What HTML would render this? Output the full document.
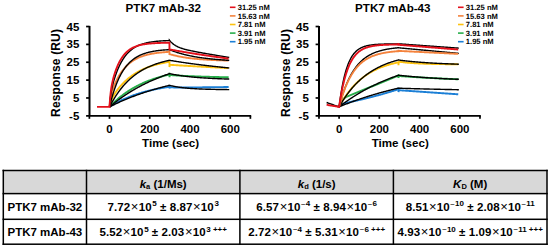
<!DOCTYPE html>
<html><head><meta charset="utf-8"><style>
html,body{margin:0;padding:0;background:#fff;width:550px;height:247px;overflow:hidden;position:relative}
svg{position:absolute;left:0;top:0}
.tk{font-family:"Liberation Sans",sans-serif;font-weight:bold;font-size:11.5px;fill:#000}
.ti{font-family:"Liberation Sans",sans-serif;font-weight:bold;font-size:11.6px;fill:#000}
.yl{font-family:"Liberation Sans",sans-serif;font-weight:bold;font-size:12px;letter-spacing:0.15px;fill:#000}
.lg{font-family:"Liberation Sans",sans-serif;font-weight:bold;font-size:7.6px;fill:#000;text-rendering:geometricPrecision}
.c{position:absolute;font-family:"Liberation Sans",sans-serif;font-weight:bold;font-size:11.5px;line-height:14px;height:14px;color:#000;text-align:center;white-space:nowrap}
.x{font-weight:normal;font-size:13px;line-height:0;margin:0 0.1px 0 0.5px}
.c.d{letter-spacing:0.1px}
sup{font-size:8px;line-height:0;vertical-align:0;position:relative;top:-4.5px;margin-left:0.6px;letter-spacing:0}
.m{font-weight:normal;font-size:8px;position:relative;top:0.3px}
sub{font-size:7.5px;line-height:0;vertical-align:0;position:relative;top:1.5px}
</style></head><body>
<svg width="550" height="247" viewBox="0 0 550 247">
<rect x="3.30" y="170.50" width="543.70" height="23.10" fill="#d8d8d8"/>
<rect x="2.55" y="169.75" width="545.20" height="1.5" fill="#000"/>
<rect x="2.55" y="192.85" width="545.20" height="1.5" fill="#000"/>
<rect x="2.55" y="218.55" width="545.20" height="1.5" fill="#000"/>
<rect x="2.55" y="243.45" width="545.20" height="1.5" fill="#000"/>
<rect x="2.55" y="169.75" width="1.5" height="75.20" fill="#000"/>
<rect x="85.75" y="169.75" width="1.5" height="75.20" fill="#000"/>
<rect x="239.15" y="169.75" width="1.5" height="75.20" fill="#000"/>
<rect x="392.65" y="169.75" width="1.5" height="75.20" fill="#000"/>
<rect x="546.25" y="169.75" width="1.5" height="75.20" fill="#000"/>
<path d="M89.50,25.93 L89.50,115.83" stroke="#000" stroke-width="2" fill="none"/>
<path d="M86.10,115.83 L251.18,115.83" stroke="#000" stroke-width="1.8" fill="none"/>
<path d="M86.10,26.53 L89.50,26.53" stroke="#000" stroke-width="1.7"/>
<path d="M86.10,44.39 L89.50,44.39" stroke="#000" stroke-width="1.7"/>
<path d="M86.10,62.25 L89.50,62.25" stroke="#000" stroke-width="1.7"/>
<path d="M86.10,80.11 L89.50,80.11" stroke="#000" stroke-width="1.7"/>
<path d="M86.10,97.97 L89.50,97.97" stroke="#000" stroke-width="1.7"/>
<path d="M89.38,115.83 L89.38,118.83" stroke="#000" stroke-width="1.7"/>
<path d="M109.50,115.83 L109.50,118.83" stroke="#000" stroke-width="1.7"/>
<path d="M129.62,115.83 L129.62,118.83" stroke="#000" stroke-width="1.7"/>
<path d="M149.75,115.83 L149.75,118.83" stroke="#000" stroke-width="1.7"/>
<path d="M169.88,115.83 L169.88,118.83" stroke="#000" stroke-width="1.7"/>
<path d="M190.00,115.83 L190.00,118.83" stroke="#000" stroke-width="1.7"/>
<path d="M210.12,115.83 L210.12,118.83" stroke="#000" stroke-width="1.7"/>
<path d="M230.25,115.83 L230.25,118.83" stroke="#000" stroke-width="1.7"/>
<path d="M250.38,115.83 L250.38,118.83" stroke="#000" stroke-width="1.7"/>
<text x="79.30" y="30.63" text-anchor="end" class="tk">45</text>
<text x="79.30" y="48.49" text-anchor="end" class="tk">35</text>
<text x="79.30" y="66.35" text-anchor="end" class="tk">25</text>
<text x="79.30" y="84.21" text-anchor="end" class="tk">15</text>
<text x="79.30" y="102.07" text-anchor="end" class="tk">5</text>
<text x="79.30" y="119.93" text-anchor="end" class="tk">-5</text>
<text x="109.50" y="132.9" text-anchor="middle" class="tk">0</text>
<text x="149.75" y="132.9" text-anchor="middle" class="tk">200</text>
<text x="190.00" y="132.9" text-anchor="middle" class="tk">400</text>
<text x="230.25" y="132.9" text-anchor="middle" class="tk">600</text>
<text x="163.30" y="11.9" text-anchor="middle" class="ti">PTK7 mAb-32</text>
<text x="170.62" y="146.9" text-anchor="middle" class="ti">Time (sec)</text>
<text transform="translate(60.30,72.9) rotate(-90)" text-anchor="middle" class="yl">Response (RU)</text>
<path d="M229.90,7.30 L235.50,7.30" stroke="#e3101b" stroke-width="1.6"/>
<text x="237.70" y="10.05" class="lg">31.25 nM</text>
<path d="M229.90,15.90 L235.50,15.90" stroke="#f4823c" stroke-width="1.6"/>
<text x="237.70" y="18.65" class="lg">15.63 nM</text>
<path d="M229.90,24.50 L235.50,24.50" stroke="#fdc20f" stroke-width="1.6"/>
<text x="237.70" y="27.25" class="lg">7.81 nM</text>
<path d="M229.90,33.10 L235.50,33.10" stroke="#27ae4a" stroke-width="1.6"/>
<text x="237.70" y="35.85" class="lg">3.91 nM</text>
<path d="M229.90,41.70 L235.50,41.70" stroke="#1b7fd6" stroke-width="1.6"/>
<text x="237.70" y="44.45" class="lg">1.95 nM</text>
<path d="M109.50,106.90 L110.10,106.51 L110.71,106.13 L111.31,105.76 L111.92,105.39 L112.52,105.03 L113.12,104.67 L113.73,104.32 L114.33,103.97 L114.93,103.63 L115.54,103.29 L116.14,102.96 L116.75,102.63 L117.35,102.31 L117.95,101.99 L118.56,101.68 L119.16,101.37 L119.76,101.07 L120.37,100.77 L120.97,100.48 L121.58,100.19 L122.18,99.90 L122.78,99.62 L123.39,99.34 L123.99,99.07 L124.59,98.80 L125.20,98.54 L125.80,98.28 L126.41,98.02 L127.01,97.77 L127.61,97.52 L128.22,97.27 L128.82,97.03 L129.42,96.79 L130.03,96.55 L130.63,96.32 L131.24,96.09 L131.84,95.87 L132.44,95.65 L133.05,95.43 L133.65,95.22 L134.25,95.00 L134.86,94.80 L135.46,94.59 L136.06,94.39 L136.67,94.19 L137.27,93.99 L137.88,93.80 L138.48,93.61 L139.08,93.42 L139.69,93.24 L140.29,93.05 L140.90,92.87 L141.50,92.70 L142.10,92.52 L142.71,92.35 L143.31,92.18 L143.91,92.02 L144.52,91.85 L145.12,91.69 L145.72,91.53 L146.33,91.38 L146.93,91.22 L147.54,91.07 L148.14,90.92 L148.74,90.77 L149.35,90.63 L149.95,90.48 L150.56,90.34 L151.16,90.20 L151.76,90.07 L152.37,89.93 L152.97,89.80 L153.57,89.67 L154.18,89.54 L154.78,89.41 L155.38,89.29 L155.99,89.16 L156.59,89.04 L157.20,88.92 L157.80,88.80 L158.40,88.69 L159.01,88.57 L159.61,88.46 L160.22,88.35 L160.82,88.24 L161.42,88.13 L162.03,88.03 L162.63,87.92 L163.23,87.82 L163.84,87.72 L164.44,87.62 L165.05,87.52 L165.65,87.42 L166.25,87.33 L166.86,87.23 L167.46,87.14 L168.06,87.05 L168.67,86.96 L169.27,86.87 L169.47,86.84 L169.47,85.05 L169.47,88.59 L169.77,86.89 L169.47,86.80 L170.08,86.97 L170.68,87.10 L171.28,87.21 L171.89,87.30 L172.49,87.37 L173.09,87.42 L173.70,87.46 L174.30,87.50 L174.91,87.52 L175.51,87.54 L176.11,87.55 L176.72,87.56 L177.32,87.57 L177.93,87.57 L178.53,87.58 L179.13,87.58 L179.74,87.58 L180.34,87.57 L180.94,87.57 L181.55,87.57 L182.15,87.56 L182.75,87.56 L183.36,87.55 L183.96,87.54 L184.57,87.54 L185.17,87.53 L185.77,87.53 L186.38,87.52 L186.98,87.51 L187.59,87.51 L188.19,87.50 L188.79,87.49 L189.40,87.48 L190.00,87.48 L190.60,87.47 L191.21,87.46 L191.81,87.46 L192.42,87.45 L193.02,87.44 L193.62,87.43 L194.23,87.43 L194.83,87.42 L195.43,87.41 L196.04,87.40 L196.64,87.40 L197.25,87.39 L197.85,87.38 L198.45,87.38 L199.06,87.37 L199.66,87.36 L200.26,87.35 L200.87,87.35 L201.47,87.34 L202.07,87.33 L202.68,87.32 L203.28,87.32 L203.89,87.31 L204.49,87.30 L205.09,87.30 L205.70,87.29 L206.30,87.28 L206.91,87.27 L207.51,87.27 L208.11,87.26 L208.72,87.25 L209.32,87.24 L209.92,87.24 L210.53,87.23 L211.13,87.22 L211.74,87.22 L212.34,87.21 L212.94,87.20 L213.55,87.19 L214.15,87.19 L214.75,87.18 L215.36,87.17 L215.96,87.16 L216.56,87.16 L217.17,87.15 L217.77,87.14 L218.38,87.14 L218.98,87.13 L219.58,87.12 L220.19,87.11 L220.79,87.11 L221.40,87.10 L222.00,87.09 L222.60,87.08 L223.21,87.08 L223.81,87.07 L224.41,87.06 L225.02,87.06 L225.62,87.05 L226.23,87.04 L226.83,87.03 L227.43,87.03 L228.04,87.02 L228.64,87.01" stroke="#1b7fd6" stroke-width="1.9" fill="none"/>
<path d="M109.50,106.90 L110.10,106.26 L110.71,105.64 L111.31,105.02 L111.92,104.42 L112.52,103.82 L113.12,103.23 L113.73,102.65 L114.33,102.08 L114.93,101.52 L115.54,100.97 L116.14,100.42 L116.75,99.89 L117.35,99.36 L117.95,98.84 L118.56,98.33 L119.16,97.83 L119.76,97.33 L120.37,96.84 L120.97,96.36 L121.58,95.89 L122.18,95.42 L122.78,94.97 L123.39,94.52 L123.99,94.07 L124.59,93.63 L125.20,93.20 L125.80,92.78 L126.41,92.36 L127.01,91.95 L127.61,91.55 L128.22,91.15 L128.82,90.76 L129.42,90.37 L130.03,89.99 L130.63,89.62 L131.24,89.25 L131.84,88.89 L132.44,88.53 L133.05,88.18 L133.65,87.83 L134.25,87.49 L134.86,87.16 L135.46,86.83 L136.06,86.50 L136.67,86.18 L137.27,85.86 L137.88,85.55 L138.48,85.25 L139.08,84.95 L139.69,84.65 L140.29,84.36 L140.90,84.07 L141.50,83.79 L142.10,83.51 L142.71,83.24 L143.31,82.97 L143.91,82.70 L144.52,82.44 L145.12,82.19 L145.72,81.93 L146.33,81.68 L146.93,81.44 L147.54,81.20 L148.14,80.96 L148.74,80.72 L149.35,80.49 L149.95,80.27 L150.56,80.04 L151.16,79.82 L151.76,79.61 L152.37,79.39 L152.97,79.18 L153.57,78.98 L154.18,78.77 L154.78,78.57 L155.38,78.37 L155.99,78.18 L156.59,77.99 L157.20,77.80 L157.80,77.61 L158.40,77.43 L159.01,77.25 L159.61,77.08 L160.22,76.90 L160.82,76.73 L161.42,76.56 L162.03,76.39 L162.63,76.23 L163.23,76.07 L163.84,75.91 L164.44,75.76 L165.05,75.60 L165.65,75.45 L166.25,75.30 L166.86,75.15 L167.46,75.01 L168.06,74.87 L168.67,74.73 L169.27,74.59 L169.47,74.54 L169.47,72.76 L169.47,77.14 L169.77,75.02 L169.47,75.00 L170.08,75.04 L170.68,75.08 L171.28,75.12 L171.89,75.17 L172.49,75.20 L173.09,75.24 L173.70,75.28 L174.30,75.32 L174.91,75.36 L175.51,75.40 L176.11,75.43 L176.72,75.47 L177.32,75.50 L177.93,75.54 L178.53,75.57 L179.13,75.61 L179.74,75.64 L180.34,75.67 L180.94,75.70 L181.55,75.74 L182.15,75.77 L182.75,75.80 L183.36,75.83 L183.96,75.86 L184.57,75.89 L185.17,75.92 L185.77,75.95 L186.38,75.98 L186.98,76.01 L187.59,76.03 L188.19,76.06 L188.79,76.09 L189.40,76.11 L190.00,76.14 L190.60,76.17 L191.21,76.19 L191.81,76.22 L192.42,76.24 L193.02,76.27 L193.62,76.29 L194.23,76.32 L194.83,76.34 L195.43,76.36 L196.04,76.38 L196.64,76.41 L197.25,76.43 L197.85,76.45 L198.45,76.47 L199.06,76.50 L199.66,76.52 L200.26,76.54 L200.87,76.56 L201.47,76.58 L202.07,76.60 L202.68,76.62 L203.28,76.64 L203.89,76.66 L204.49,76.68 L205.09,76.70 L205.70,76.71 L206.30,76.73 L206.91,76.75 L207.51,76.77 L208.11,76.79 L208.72,76.80 L209.32,76.82 L209.92,76.84 L210.53,76.86 L211.13,76.87 L211.74,76.89 L212.34,76.90 L212.94,76.92 L213.55,76.94 L214.15,76.95 L214.75,76.97 L215.36,76.98 L215.96,77.00 L216.56,77.01 L217.17,77.03 L217.77,77.04 L218.38,77.06 L218.98,77.07 L219.58,77.09 L220.19,77.10 L220.79,77.11 L221.40,77.13 L222.00,77.14 L222.60,77.15 L223.21,77.17 L223.81,77.18 L224.41,77.19 L225.02,77.21 L225.62,77.22 L226.23,77.23 L226.83,77.24 L227.43,77.26 L228.04,77.27 L228.64,77.28" stroke="#27ae4a" stroke-width="1.9" fill="none"/>
<path d="M109.50,106.90 L110.10,104.47 L110.71,102.43 L111.31,100.68 L111.92,99.15 L112.52,97.79 L113.12,96.56 L113.73,95.43 L114.33,94.38 L114.93,93.40 L115.54,92.47 L116.14,91.59 L116.75,90.74 L117.35,89.92 L117.95,89.14 L118.56,88.37 L119.16,87.63 L119.76,86.92 L120.37,86.22 L120.97,85.54 L121.58,84.87 L122.18,84.23 L122.78,83.60 L123.39,82.99 L123.99,82.39 L124.59,81.80 L125.20,81.23 L125.80,80.68 L126.41,80.13 L127.01,79.60 L127.61,79.08 L128.22,78.58 L128.82,78.09 L129.42,77.60 L130.03,77.13 L130.63,76.68 L131.24,76.23 L131.84,75.79 L132.44,75.36 L133.05,74.95 L133.65,74.54 L134.25,74.14 L134.86,73.75 L135.46,73.38 L136.06,73.01 L136.67,72.64 L137.27,72.29 L137.88,71.95 L138.48,71.61 L139.08,71.28 L139.69,70.96 L140.29,70.65 L140.90,70.35 L141.50,70.05 L142.10,69.76 L142.71,69.47 L143.31,69.20 L143.91,68.93 L144.52,68.66 L145.12,68.40 L145.72,68.15 L146.33,67.91 L146.93,67.67 L147.54,67.43 L148.14,67.20 L148.74,66.98 L149.35,66.76 L149.95,66.55 L150.56,66.34 L151.16,66.14 L151.76,65.94 L152.37,65.75 L152.97,65.56 L153.57,65.37 L154.18,65.19 L154.78,65.02 L155.38,64.85 L155.99,64.68 L156.59,64.52 L157.20,64.36 L157.80,64.20 L158.40,64.05 L159.01,63.90 L159.61,63.75 L160.22,63.61 L160.82,63.47 L161.42,63.34 L162.03,63.21 L162.63,63.08 L163.23,62.95 L163.84,62.83 L164.44,62.71 L165.05,62.59 L165.65,62.48 L166.25,62.37 L166.86,62.26 L167.46,62.15 L168.06,62.05 L168.67,61.95 L169.27,61.85 L169.47,61.82 L169.47,60.21 L169.47,67.12 L169.77,64.82 L169.47,64.80 L170.08,64.84 L170.68,64.87 L171.28,64.91 L171.89,64.95 L172.49,64.99 L173.09,65.02 L173.70,65.06 L174.30,65.10 L174.91,65.13 L175.51,65.17 L176.11,65.21 L176.72,65.24 L177.32,65.28 L177.93,65.32 L178.53,65.35 L179.13,65.39 L179.74,65.43 L180.34,65.46 L180.94,65.50 L181.55,65.53 L182.15,65.57 L182.75,65.61 L183.36,65.64 L183.96,65.68 L184.57,65.71 L185.17,65.75 L185.77,65.78 L186.38,65.82 L186.98,65.85 L187.59,65.89 L188.19,65.93 L188.79,65.96 L189.40,66.00 L190.00,66.03 L190.60,66.07 L191.21,66.10 L191.81,66.14 L192.42,66.17 L193.02,66.20 L193.62,66.24 L194.23,66.27 L194.83,66.31 L195.43,66.34 L196.04,66.38 L196.64,66.41 L197.25,66.45 L197.85,66.48 L198.45,66.51 L199.06,66.55 L199.66,66.58 L200.26,66.62 L200.87,66.65 L201.47,66.68 L202.07,66.72 L202.68,66.75 L203.28,66.78 L203.89,66.82 L204.49,66.85 L205.09,66.89 L205.70,66.92 L206.30,66.95 L206.91,66.99 L207.51,67.02 L208.11,67.05 L208.72,67.09 L209.32,67.12 L209.92,67.15 L210.53,67.18 L211.13,67.22 L211.74,67.25 L212.34,67.28 L212.94,67.32 L213.55,67.35 L214.15,67.38 L214.75,67.41 L215.36,67.45 L215.96,67.48 L216.56,67.51 L217.17,67.54 L217.77,67.58 L218.38,67.61 L218.98,67.64 L219.58,67.67 L220.19,67.70 L220.79,67.74 L221.40,67.77 L222.00,67.80 L222.60,67.83 L223.21,67.86 L223.81,67.90 L224.41,67.93 L225.02,67.96 L225.62,67.99 L226.23,68.02 L226.83,68.05 L227.43,68.08 L228.04,68.12 L228.64,68.15" stroke="#fdc20f" stroke-width="1.9" fill="none"/>
<path d="M109.50,106.90 L110.10,101.80 L110.71,97.95 L111.31,94.91 L111.92,92.42 L112.52,90.30 L113.12,88.44 L113.73,86.76 L114.33,85.21 L114.93,83.78 L115.54,82.43 L116.14,81.15 L116.75,79.93 L117.35,78.77 L117.95,77.66 L118.56,76.59 L119.16,75.58 L119.76,74.60 L120.37,73.66 L120.97,72.76 L121.58,71.90 L122.18,71.07 L122.78,70.27 L123.39,69.50 L123.99,68.77 L124.59,68.06 L125.20,67.39 L125.80,66.74 L126.41,66.11 L127.01,65.51 L127.61,64.94 L128.22,64.38 L128.82,63.85 L129.42,63.34 L130.03,62.85 L130.63,62.38 L131.24,61.93 L131.84,61.49 L132.44,61.08 L133.05,60.68 L133.65,60.29 L134.25,59.92 L134.86,59.57 L135.46,59.23 L136.06,58.90 L136.67,58.59 L137.27,58.29 L137.88,58.00 L138.48,57.72 L139.08,57.45 L139.69,57.20 L140.29,56.95 L140.90,56.72 L141.50,56.49 L142.10,56.27 L142.71,56.06 L143.31,55.86 L143.91,55.67 L144.52,55.48 L145.12,55.30 L145.72,55.13 L146.33,54.97 L146.93,54.81 L147.54,54.66 L148.14,54.51 L148.74,54.38 L149.35,54.24 L149.95,54.11 L150.56,53.99 L151.16,53.87 L151.76,53.76 L152.37,53.65 L152.97,53.54 L153.57,53.44 L154.18,53.34 L154.78,53.25 L155.38,53.16 L155.99,53.08 L156.59,52.99 L157.20,52.91 L157.80,52.84 L158.40,52.76 L159.01,52.69 L159.61,52.63 L160.22,52.56 L160.82,52.50 L161.42,52.44 L162.03,52.38 L162.63,52.33 L163.23,52.28 L163.84,52.23 L164.44,52.18 L165.05,52.13 L165.65,52.08 L166.25,52.04 L166.86,52.00 L167.46,51.96 L168.06,51.92 L168.67,51.89 L169.27,51.85 L169.47,51.84 L169.47,50.23 L169.47,55.07 L169.77,54.09 L169.47,54.00 L170.08,54.19 L170.68,54.37 L171.28,54.55 L171.89,54.72 L172.49,54.89 L173.09,55.05 L173.70,55.21 L174.30,55.36 L174.91,55.51 L175.51,55.66 L176.11,55.80 L176.72,55.94 L177.32,56.07 L177.93,56.20 L178.53,56.33 L179.13,56.46 L179.74,56.58 L180.34,56.69 L180.94,56.81 L181.55,56.92 L182.15,57.03 L182.75,57.13 L183.36,57.24 L183.96,57.34 L184.57,57.43 L185.17,57.53 L185.77,57.62 L186.38,57.71 L186.98,57.80 L187.59,57.88 L188.19,57.96 L188.79,58.04 L189.40,58.12 L190.00,58.20 L190.60,58.27 L191.21,58.35 L191.81,58.42 L192.42,58.49 L193.02,58.55 L193.62,58.62 L194.23,58.68 L194.83,58.74 L195.43,58.80 L196.04,58.86 L196.64,58.92 L197.25,58.97 L197.85,59.03 L198.45,59.08 L199.06,59.13 L199.66,59.18 L200.26,59.23 L200.87,59.28 L201.47,59.33 L202.07,59.37 L202.68,59.42 L203.28,59.46 L203.89,59.50 L204.49,59.54 L205.09,59.58 L205.70,59.62 L206.30,59.66 L206.91,59.69 L207.51,59.73 L208.11,59.77 L208.72,59.80 L209.32,59.83 L209.92,59.87 L210.53,59.90 L211.13,59.93 L211.74,59.96 L212.34,59.99 L212.94,60.02 L213.55,60.05 L214.15,60.07 L214.75,60.10 L215.36,60.13 L215.96,60.15 L216.56,60.18 L217.17,60.20 L217.77,60.23 L218.38,60.25 L218.98,60.27 L219.58,60.29 L220.19,60.32 L220.79,60.34 L221.40,60.36 L222.00,60.38 L222.60,60.40 L223.21,60.42 L223.81,60.44 L224.41,60.45 L225.02,60.47 L225.62,60.49 L226.23,60.51 L226.83,60.53 L227.43,60.54 L228.04,60.56 L228.64,60.57" stroke="#f4823c" stroke-width="1.9" fill="none"/>
<path d="M109.50,106.90 L110.10,106.59 L110.71,106.29 L111.31,105.99 L111.92,105.69 L112.52,105.39 L113.12,105.09 L113.73,104.80 L114.33,104.51 L114.93,104.22 L115.54,103.93 L116.14,103.65 L116.75,103.36 L117.35,103.08 L117.95,102.81 L118.56,102.53 L119.16,102.25 L119.76,101.98 L120.37,101.71 L120.97,101.44 L121.58,101.18 L122.18,100.91 L122.78,100.65 L123.39,100.39 L123.99,100.13 L124.59,99.88 L125.20,99.62 L125.80,99.37 L126.41,99.12 L127.01,98.87 L127.61,98.62 L128.22,98.38 L128.82,98.14 L129.42,97.89 L130.03,97.65 L130.63,97.42 L131.24,97.18 L131.84,96.95 L132.44,96.71 L133.05,96.48 L133.65,96.25 L134.25,96.03 L134.86,95.80 L135.46,95.58 L136.06,95.35 L136.67,95.13 L137.27,94.91 L137.88,94.70 L138.48,94.48 L139.08,94.27 L139.69,94.05 L140.29,93.84 L140.90,93.63 L141.50,93.43 L142.10,93.22 L142.71,93.02 L143.31,92.81 L143.91,92.61 L144.52,92.41 L145.12,92.21 L145.72,92.01 L146.33,91.82 L146.93,91.62 L147.54,91.43 L148.14,91.24 L148.74,91.05 L149.35,90.86 L149.95,90.67 L150.56,90.49 L151.16,90.30 L151.76,90.12 L152.37,89.94 L152.97,89.76 L153.57,89.58 L154.18,89.40 L154.78,89.23 L155.38,89.05 L155.99,88.88 L156.59,88.71 L157.20,88.54 L157.80,88.37 L158.40,88.20 L159.01,88.03 L159.61,87.86 L160.22,87.70 L160.82,87.54 L161.42,87.37 L162.03,87.21 L162.63,87.05 L163.23,86.89 L163.84,86.74 L164.44,86.58 L165.05,86.43 L165.65,86.27 L166.25,86.12 L166.86,85.97 L167.46,85.82 L168.06,85.67 L168.67,85.52 L169.27,85.37 L169.47,85.32 L169.47,85.30 L170.08,85.45 L170.68,85.60 L171.28,85.75 L171.89,85.88 L172.49,86.02 L173.09,86.15 L173.70,86.27 L174.30,86.39 L174.91,86.51 L175.51,86.62 L176.11,86.73 L176.72,86.83 L177.32,86.93 L177.93,87.03 L178.53,87.12 L179.13,87.21 L179.74,87.30 L180.34,87.38 L180.94,87.46 L181.55,87.54 L182.15,87.62 L182.75,87.69 L183.36,87.76 L183.96,87.83 L184.57,87.89 L185.17,87.95 L185.77,88.02 L186.38,88.07 L186.98,88.13 L187.59,88.19 L188.19,88.24 L188.79,88.29 L189.40,88.34 L190.00,88.39 L190.60,88.43 L191.21,88.48 L191.81,88.52 L192.42,88.56 L193.02,88.60 L193.62,88.64 L194.23,88.67 L194.83,88.71 L195.43,88.75 L196.04,88.78 L196.64,88.81 L197.25,88.84 L197.85,88.87 L198.45,88.90 L199.06,88.93 L199.66,88.96 L200.26,88.98 L200.87,89.01 L201.47,89.03 L202.07,89.06 L202.68,89.08 L203.28,89.10 L203.89,89.12 L204.49,89.14 L205.09,89.16 L205.70,89.18 L206.30,89.20 L206.91,89.22 L207.51,89.23 L208.11,89.25 L208.72,89.27 L209.32,89.28 L209.92,89.30 L210.53,89.31 L211.13,89.33 L211.74,89.34 L212.34,89.35 L212.94,89.37 L213.55,89.38 L214.15,89.39 L214.75,89.40 L215.36,89.41 L215.96,89.43 L216.56,89.44 L217.17,89.45 L217.77,89.46 L218.38,89.47 L218.98,89.48 L219.58,89.48 L220.19,89.49 L220.79,89.50 L221.40,89.51 L222.00,89.52 L222.60,89.53 L223.21,89.53 L223.81,89.54 L224.41,89.55 L225.02,89.55 L225.62,89.56 L226.23,89.57 L226.83,89.57 L227.43,89.58 L228.04,89.59 L228.64,89.59 L229.24,89.60" stroke="#000" stroke-width="1.4" fill="none"/>
<path d="M109.50,106.90 L110.10,106.40 L110.71,105.90 L111.31,105.40 L111.92,104.91 L112.52,104.42 L113.12,103.94 L113.73,103.47 L114.33,102.99 L114.93,102.52 L115.54,102.06 L116.14,101.60 L116.75,101.14 L117.35,100.69 L117.95,100.24 L118.56,99.80 L119.16,99.35 L119.76,98.92 L120.37,98.49 L120.97,98.06 L121.58,97.63 L122.18,97.21 L122.78,96.79 L123.39,96.38 L123.99,95.97 L124.59,95.56 L125.20,95.16 L125.80,94.76 L126.41,94.37 L127.01,93.98 L127.61,93.59 L128.22,93.20 L128.82,92.82 L129.42,92.44 L130.03,92.07 L130.63,91.70 L131.24,91.33 L131.84,90.97 L132.44,90.60 L133.05,90.25 L133.65,89.89 L134.25,89.54 L134.86,89.19 L135.46,88.85 L136.06,88.50 L136.67,88.16 L137.27,87.83 L137.88,87.50 L138.48,87.16 L139.08,86.84 L139.69,86.51 L140.29,86.19 L140.90,85.87 L141.50,85.56 L142.10,85.24 L142.71,84.93 L143.31,84.63 L143.91,84.32 L144.52,84.02 L145.12,83.72 L145.72,83.43 L146.33,83.13 L146.93,82.84 L147.54,82.55 L148.14,82.27 L148.74,81.98 L149.35,81.70 L149.95,81.42 L150.56,81.15 L151.16,80.87 L151.76,80.60 L152.37,80.34 L152.97,80.07 L153.57,79.81 L154.18,79.54 L154.78,79.29 L155.38,79.03 L155.99,78.77 L156.59,78.52 L157.20,78.27 L157.80,78.03 L158.40,77.78 L159.01,77.54 L159.61,77.30 L160.22,77.06 L160.82,76.82 L161.42,76.59 L162.03,76.35 L162.63,76.12 L163.23,75.89 L163.84,75.67 L164.44,75.44 L165.05,75.22 L165.65,75.00 L166.25,74.78 L166.86,74.57 L167.46,74.35 L168.06,74.14 L168.67,73.93 L169.27,73.72 L169.47,73.65 L169.47,73.60 L170.08,73.73 L170.68,73.86 L171.28,73.99 L171.89,74.11 L172.49,74.23 L173.09,74.35 L173.70,74.47 L174.30,74.58 L174.91,74.69 L175.51,74.80 L176.11,74.90 L176.72,75.01 L177.32,75.11 L177.93,75.21 L178.53,75.30 L179.13,75.40 L179.74,75.49 L180.34,75.58 L180.94,75.67 L181.55,75.76 L182.15,75.84 L182.75,75.93 L183.36,76.01 L183.96,76.09 L184.57,76.16 L185.17,76.24 L185.77,76.32 L186.38,76.39 L186.98,76.46 L187.59,76.53 L188.19,76.60 L188.79,76.66 L189.40,76.73 L190.00,76.79 L190.60,76.86 L191.21,76.92 L191.81,76.98 L192.42,77.04 L193.02,77.10 L193.62,77.15 L194.23,77.21 L194.83,77.26 L195.43,77.31 L196.04,77.37 L196.64,77.42 L197.25,77.47 L197.85,77.52 L198.45,77.56 L199.06,77.61 L199.66,77.66 L200.26,77.70 L200.87,77.74 L201.47,77.79 L202.07,77.83 L202.68,77.87 L203.28,77.91 L203.89,77.95 L204.49,77.99 L205.09,78.03 L205.70,78.07 L206.30,78.10 L206.91,78.14 L207.51,78.17 L208.11,78.21 L208.72,78.24 L209.32,78.28 L209.92,78.31 L210.53,78.34 L211.13,78.37 L211.74,78.40 L212.34,78.43 L212.94,78.46 L213.55,78.49 L214.15,78.52 L214.75,78.55 L215.36,78.58 L215.96,78.60 L216.56,78.63 L217.17,78.65 L217.77,78.68 L218.38,78.71 L218.98,78.73 L219.58,78.75 L220.19,78.78 L220.79,78.80 L221.40,78.82 L222.00,78.85 L222.60,78.87 L223.21,78.89 L223.81,78.91 L224.41,78.93 L225.02,78.95 L225.62,78.97 L226.23,78.99 L226.83,79.01 L227.43,79.03 L228.04,79.05 L228.64,79.07 L229.24,79.09" stroke="#000" stroke-width="1.4" fill="none"/>
<path d="M109.50,106.90 L110.10,105.74 L110.71,104.61 L111.31,103.50 L111.92,102.41 L112.52,101.35 L113.12,100.31 L113.73,99.30 L114.33,98.31 L114.93,97.34 L115.54,96.39 L116.14,95.47 L116.75,94.56 L117.35,93.67 L117.95,92.81 L118.56,91.96 L119.16,91.13 L119.76,90.32 L120.37,89.53 L120.97,88.76 L121.58,88.00 L122.18,87.26 L122.78,86.54 L123.39,85.83 L123.99,85.14 L124.59,84.46 L125.20,83.80 L125.80,83.16 L126.41,82.52 L127.01,81.91 L127.61,81.30 L128.22,80.71 L128.82,80.13 L129.42,79.57 L130.03,79.02 L130.63,78.48 L131.24,77.95 L131.84,77.43 L132.44,76.93 L133.05,76.43 L133.65,75.95 L134.25,75.48 L134.86,75.02 L135.46,74.57 L136.06,74.13 L136.67,73.70 L137.27,73.27 L137.88,72.86 L138.48,72.46 L139.08,72.07 L139.69,71.68 L140.29,71.30 L140.90,70.93 L141.50,70.57 L142.10,70.22 L142.71,69.88 L143.31,69.54 L143.91,69.21 L144.52,68.89 L145.12,68.58 L145.72,68.27 L146.33,67.97 L146.93,67.67 L147.54,67.39 L148.14,67.10 L148.74,66.83 L149.35,66.56 L149.95,66.30 L150.56,66.04 L151.16,65.79 L151.76,65.54 L152.37,65.30 L152.97,65.07 L153.57,64.84 L154.18,64.62 L154.78,64.40 L155.38,64.18 L155.99,63.97 L156.59,63.77 L157.20,63.57 L157.80,63.37 L158.40,63.18 L159.01,62.99 L159.61,62.81 L160.22,62.63 L160.82,62.45 L161.42,62.28 L162.03,62.11 L162.63,61.95 L163.23,61.79 L163.84,61.63 L164.44,61.48 L165.05,61.33 L165.65,61.18 L166.25,61.04 L166.86,60.90 L167.46,60.76 L168.06,60.63 L168.67,60.50 L169.27,60.37 L169.47,60.33 L169.47,60.30 L170.08,60.40 L170.68,60.50 L171.28,60.61 L171.89,60.71 L172.49,60.81 L173.09,60.91 L173.70,61.00 L174.30,61.10 L174.91,61.20 L175.51,61.30 L176.11,61.39 L176.72,61.49 L177.32,61.58 L177.93,61.68 L178.53,61.77 L179.13,61.86 L179.74,61.96 L180.34,62.05 L180.94,62.14 L181.55,62.23 L182.15,62.32 L182.75,62.41 L183.36,62.50 L183.96,62.59 L184.57,62.68 L185.17,62.76 L185.77,62.85 L186.38,62.94 L186.98,63.02 L187.59,63.11 L188.19,63.19 L188.79,63.28 L189.40,63.36 L190.00,63.44 L190.60,63.53 L191.21,63.61 L191.81,63.69 L192.42,63.77 L193.02,63.85 L193.62,63.93 L194.23,64.01 L194.83,64.09 L195.43,64.17 L196.04,64.25 L196.64,64.33 L197.25,64.40 L197.85,64.48 L198.45,64.56 L199.06,64.63 L199.66,64.71 L200.26,64.78 L200.87,64.86 L201.47,64.93 L202.07,65.01 L202.68,65.08 L203.28,65.15 L203.89,65.23 L204.49,65.30 L205.09,65.37 L205.70,65.44 L206.30,65.51 L206.91,65.58 L207.51,65.65 L208.11,65.72 L208.72,65.79 L209.32,65.86 L209.92,65.93 L210.53,66.00 L211.13,66.07 L211.74,66.14 L212.34,66.20 L212.94,66.27 L213.55,66.34 L214.15,66.40 L214.75,66.47 L215.36,66.54 L215.96,66.60 L216.56,66.67 L217.17,66.73 L217.77,66.80 L218.38,66.86 L218.98,66.92 L219.58,66.99 L220.19,67.05 L220.79,67.11 L221.40,67.18 L222.00,67.24 L222.60,67.30 L223.21,67.36 L223.81,67.42 L224.41,67.48 L225.02,67.54 L225.62,67.60 L226.23,67.66 L226.83,67.72 L227.43,67.78 L228.04,67.84 L228.64,67.90 L229.24,67.96" stroke="#000" stroke-width="1.4" fill="none"/>
<path d="M109.50,106.90 L110.10,104.43 L110.71,102.06 L111.31,99.80 L111.92,97.63 L112.52,95.55 L113.12,93.57 L113.73,91.66 L114.33,89.84 L114.93,88.10 L115.54,86.43 L116.14,84.83 L116.75,83.29 L117.35,81.83 L117.95,80.43 L118.56,79.08 L119.16,77.79 L119.76,76.56 L120.37,75.38 L120.97,74.25 L121.58,73.17 L122.18,72.14 L122.78,71.15 L123.39,70.20 L123.99,69.29 L124.59,68.42 L125.20,67.59 L125.80,66.79 L126.41,66.03 L127.01,65.30 L127.61,64.60 L128.22,63.93 L128.82,63.28 L129.42,62.67 L130.03,62.08 L130.63,61.52 L131.24,60.98 L131.84,60.46 L132.44,59.97 L133.05,59.50 L133.65,59.04 L134.25,58.61 L134.86,58.19 L135.46,57.80 L136.06,57.42 L136.67,57.05 L137.27,56.70 L137.88,56.37 L138.48,56.05 L139.08,55.74 L139.69,55.45 L140.29,55.17 L140.90,54.90 L141.50,54.64 L142.10,54.40 L142.71,54.16 L143.31,53.93 L143.91,53.72 L144.52,53.51 L145.12,53.31 L145.72,53.12 L146.33,52.94 L146.93,52.77 L147.54,52.60 L148.14,52.44 L148.74,52.29 L149.35,52.14 L149.95,52.00 L150.56,51.87 L151.16,51.74 L151.76,51.62 L152.37,51.50 L152.97,51.39 L153.57,51.28 L154.18,51.18 L154.78,51.08 L155.38,50.98 L155.99,50.89 L156.59,50.81 L157.20,50.72 L157.80,50.64 L158.40,50.57 L159.01,50.49 L159.61,50.42 L160.22,50.36 L160.82,50.29 L161.42,50.23 L162.03,50.17 L162.63,50.12 L163.23,50.06 L163.84,50.01 L164.44,49.96 L165.05,49.92 L165.65,49.87 L166.25,49.83 L166.86,49.79 L167.46,49.75 L168.06,49.71 L168.67,49.67 L169.27,49.64 L169.47,49.63 L169.47,49.60 L170.08,49.85 L170.68,50.10 L171.28,50.35 L171.89,50.59 L172.49,50.82 L173.09,51.05 L173.70,51.27 L174.30,51.49 L174.91,51.71 L175.51,51.91 L176.11,52.12 L176.72,52.32 L177.32,52.52 L177.93,52.71 L178.53,52.90 L179.13,53.08 L179.74,53.26 L180.34,53.44 L180.94,53.61 L181.55,53.78 L182.15,53.95 L182.75,54.11 L183.36,54.27 L183.96,54.42 L184.57,54.57 L185.17,54.72 L185.77,54.87 L186.38,55.01 L186.98,55.15 L187.59,55.29 L188.19,55.42 L188.79,55.55 L189.40,55.68 L190.00,55.81 L190.60,55.93 L191.21,56.05 L191.81,56.17 L192.42,56.29 L193.02,56.40 L193.62,56.51 L194.23,56.62 L194.83,56.73 L195.43,56.83 L196.04,56.93 L196.64,57.03 L197.25,57.13 L197.85,57.23 L198.45,57.32 L199.06,57.42 L199.66,57.51 L200.26,57.60 L200.87,57.68 L201.47,57.77 L202.07,57.85 L202.68,57.93 L203.28,58.01 L203.89,58.09 L204.49,58.17 L205.09,58.25 L205.70,58.32 L206.30,58.39 L206.91,58.47 L207.51,58.54 L208.11,58.61 L208.72,58.67 L209.32,58.74 L209.92,58.81 L210.53,58.87 L211.13,58.93 L211.74,58.99 L212.34,59.05 L212.94,59.11 L213.55,59.17 L214.15,59.23 L214.75,59.29 L215.36,59.34 L215.96,59.39 L216.56,59.45 L217.17,59.50 L217.77,59.55 L218.38,59.60 L218.98,59.65 L219.58,59.70 L220.19,59.75 L220.79,59.79 L221.40,59.84 L222.00,59.89 L222.60,59.93 L223.21,59.97 L223.81,60.02 L224.41,60.06 L225.02,60.10 L225.62,60.14 L226.23,60.18 L226.83,60.22 L227.43,60.26 L228.04,60.30 L228.64,60.34 L229.24,60.38" stroke="#000" stroke-width="1.4" fill="none"/>
<path d="M109.50,106.90 L110.10,100.08 L110.71,95.21 L111.31,91.46 L111.92,88.39 L112.52,85.73 L113.12,83.34 L113.73,81.16 L114.33,79.12 L114.93,77.21 L115.54,75.40 L116.14,73.69 L116.75,72.06 L117.35,70.51 L117.95,69.04 L118.56,67.64 L119.16,66.31 L119.76,65.05 L120.37,63.84 L120.97,62.70 L121.58,61.61 L122.18,60.57 L122.78,59.58 L123.39,58.64 L123.99,57.74 L124.59,56.89 L125.20,56.08 L125.80,55.31 L126.41,54.57 L127.01,53.88 L127.61,53.21 L128.22,52.58 L128.82,51.98 L129.42,51.40 L130.03,50.86 L130.63,50.34 L131.24,49.84 L131.84,49.37 L132.44,48.92 L133.05,48.50 L133.65,48.09 L134.25,47.71 L134.86,47.34 L135.46,46.99 L136.06,46.66 L136.67,46.34 L137.27,46.04 L137.88,45.75 L138.48,45.48 L139.08,45.22 L139.69,44.97 L140.29,44.74 L140.90,44.51 L141.50,44.30 L142.10,44.10 L142.71,43.91 L143.31,43.72 L143.91,43.55 L144.52,43.38 L145.12,43.22 L145.72,43.07 L146.33,42.93 L146.93,42.79 L147.54,42.66 L148.14,42.54 L148.74,42.42 L149.35,42.31 L149.95,42.20 L150.56,42.10 L151.16,42.01 L151.76,41.91 L152.37,41.83 L152.97,41.74 L153.57,41.66 L154.18,41.59 L154.78,41.52 L155.38,41.45 L155.99,41.38 L156.59,41.32 L157.20,41.26 L157.80,41.21 L158.40,41.15 L159.01,41.10 L159.61,41.05 L160.22,41.01 L160.82,40.96 L161.42,40.92 L162.03,40.88 L162.63,40.85 L163.23,40.81 L163.84,40.78 L164.44,40.74 L165.05,40.71 L165.65,40.68 L166.25,40.66 L166.86,40.63 L167.46,40.60 L168.06,40.58 L168.67,40.56 L169.27,40.53 L169.47,40.53 L169.47,40.28 L170.08,41.00 L170.68,41.66 L171.28,42.28 L171.89,42.85 L172.49,43.38 L173.09,43.87 L173.70,44.33 L174.30,44.76 L174.91,45.16 L175.51,45.54 L176.11,45.89 L176.72,46.22 L177.32,46.53 L177.93,46.83 L178.53,47.10 L179.13,47.36 L179.74,47.61 L180.34,47.84 L180.94,48.07 L181.55,48.28 L182.15,48.48 L182.75,48.68 L183.36,48.87 L183.96,49.05 L184.57,49.22 L185.17,49.38 L185.77,49.55 L186.38,49.70 L186.98,49.85 L187.59,50.00 L188.19,50.14 L188.79,50.28 L189.40,50.42 L190.00,50.55 L190.60,50.68 L191.21,50.81 L191.81,50.94 L192.42,51.06 L193.02,51.18 L193.62,51.30 L194.23,51.42 L194.83,51.54 L195.43,51.65 L196.04,51.77 L196.64,51.88 L197.25,52.00 L197.85,52.11 L198.45,52.22 L199.06,52.33 L199.66,52.44 L200.26,52.55 L200.87,52.65 L201.47,52.76 L202.07,52.87 L202.68,52.97 L203.28,53.08 L203.89,53.19 L204.49,53.29 L205.09,53.40 L205.70,53.50 L206.30,53.61 L206.91,53.71 L207.51,53.82 L208.11,53.92 L208.72,54.02 L209.32,54.13 L209.92,54.23 L210.53,54.33 L211.13,54.44 L211.74,54.54 L212.34,54.64 L212.94,54.74 L213.55,54.85 L214.15,54.95 L214.75,55.05 L215.36,55.16 L215.96,55.26 L216.56,55.36 L217.17,55.46 L217.77,55.57 L218.38,55.67 L218.98,55.77 L219.58,55.87 L220.19,55.97 L220.79,56.08 L221.40,56.18 L222.00,56.28 L222.60,56.38 L223.21,56.48 L223.81,56.59 L224.41,56.69 L225.02,56.79 L225.62,56.89 L226.23,56.99 L226.83,57.10 L227.43,57.20 L228.04,57.30 L228.64,57.40 L229.24,57.50" stroke="#000" stroke-width="1.4" fill="none"/>
<path d="M97.02,106.90 L97.83,106.90 L98.63,106.90 L99.44,106.90 L100.24,106.90 L101.05,106.90 L101.85,106.90 L102.66,106.90 L103.46,106.90 L104.27,106.90 L105.07,106.90 L105.88,106.90 L106.68,106.90 L107.49,106.90 L108.29,106.90 L109.10,106.90 L109.50,106.90 L110.10,98.24 L110.71,92.31 L111.31,87.93 L111.92,84.48 L112.52,81.60 L113.12,79.08 L113.73,76.82 L114.33,74.76 L114.93,72.84 L115.54,71.06 L116.14,69.39 L116.75,67.82 L117.35,66.35 L117.95,64.97 L118.56,63.66 L119.16,62.44 L119.76,61.28 L120.37,60.19 L120.97,59.17 L121.58,58.20 L122.18,57.30 L122.78,56.44 L123.39,55.63 L123.99,54.88 L124.59,54.16 L125.20,53.49 L125.80,52.85 L126.41,52.26 L127.01,51.69 L127.61,51.17 L128.22,50.67 L128.82,50.20 L129.42,49.76 L130.03,49.34 L130.63,48.95 L131.24,48.58 L131.84,48.23 L132.44,47.90 L133.05,47.59 L133.65,47.30 L134.25,47.03 L134.86,46.77 L135.46,46.53 L136.06,46.30 L136.67,46.08 L137.27,45.88 L137.88,45.69 L138.48,45.51 L139.08,45.34 L139.69,45.18 L140.29,45.03 L140.90,44.89 L141.50,44.76 L142.10,44.63 L142.71,44.51 L143.31,44.40 L143.91,44.30 L144.52,44.20 L145.12,44.11 L145.72,44.02 L146.33,43.94 L146.93,43.86 L147.54,43.79 L148.14,43.72 L148.74,43.65 L149.35,43.59 L149.95,43.53 L150.56,43.48 L151.16,43.43 L151.76,43.38 L152.37,43.34 L152.97,43.29 L153.57,43.25 L154.18,43.21 L154.78,43.18 L155.38,43.15 L155.99,43.11 L156.59,43.08 L157.20,43.06 L157.80,43.03 L158.40,43.01 L159.01,42.98 L159.61,42.96 L160.22,42.94 L160.82,42.92 L161.42,42.90 L162.03,42.88 L162.63,42.87 L163.23,42.85 L163.84,42.84 L164.44,42.82 L165.05,42.81 L165.65,42.80 L166.25,42.79 L166.86,42.78 L167.46,42.77 L168.06,42.76 L168.67,42.75 L169.27,42.74 L169.47,42.74 L169.47,49.40 L170.08,49.51 L170.68,49.62 L171.28,49.74 L171.89,49.85 L172.49,49.96 L173.09,50.07 L173.70,50.18 L174.30,50.29 L174.91,50.40 L175.51,50.51 L176.11,50.61 L176.72,50.72 L177.32,50.83 L177.93,50.93 L178.53,51.04 L179.13,51.15 L179.74,51.25 L180.34,51.36 L180.94,51.46 L181.55,51.56 L182.15,51.67 L182.75,51.77 L183.36,51.87 L183.96,51.98 L184.57,52.08 L185.17,52.18 L185.77,52.28 L186.38,52.38 L186.98,52.48 L187.59,52.58 L188.19,52.68 L188.79,52.78 L189.40,52.88 L190.00,52.98 L190.60,53.07 L191.21,53.17 L191.81,53.27 L192.42,53.36 L193.02,53.46 L193.62,53.56 L194.23,53.65 L194.83,53.75 L195.43,53.84 L196.04,53.94 L196.64,54.03 L197.25,54.13 L197.85,54.22 L198.45,54.31 L199.06,54.40 L199.66,54.50 L200.26,54.59 L200.87,54.68 L201.47,54.77 L202.07,54.86 L202.68,54.95 L203.28,55.04 L203.89,55.13 L204.49,55.22 L205.09,55.31 L205.70,55.40 L206.30,55.49 L206.91,55.58 L207.51,55.67 L208.11,55.76 L208.72,55.84 L209.32,55.93 L209.92,56.02 L210.53,56.10 L211.13,56.19 L211.74,56.28 L212.34,56.36 L212.94,56.45 L213.55,56.53 L214.15,56.62 L214.75,56.70 L215.36,56.79 L215.96,56.87 L216.56,56.95 L217.17,57.04 L217.77,57.12 L218.38,57.20 L218.98,57.28 L219.58,57.37 L220.19,57.45 L220.79,57.53 L221.40,57.61 L222.00,57.69 L222.60,57.77 L223.21,57.86 L223.81,57.94 L224.41,58.02 L225.02,58.10 L225.62,58.18 L226.23,58.25 L226.83,58.33 L227.43,58.41 L228.04,58.49 L228.64,58.57" stroke="#e3101b" stroke-width="1.9" fill="none"/>
<path d="M319.00,25.93 L319.00,115.83" stroke="#000" stroke-width="2" fill="none"/>
<path d="M315.60,115.83 L480.78,115.83" stroke="#000" stroke-width="1.8" fill="none"/>
<path d="M315.60,26.53 L319.00,26.53" stroke="#000" stroke-width="1.7"/>
<path d="M315.60,44.39 L319.00,44.39" stroke="#000" stroke-width="1.7"/>
<path d="M315.60,62.25 L319.00,62.25" stroke="#000" stroke-width="1.7"/>
<path d="M315.60,80.11 L319.00,80.11" stroke="#000" stroke-width="1.7"/>
<path d="M315.60,97.97 L319.00,97.97" stroke="#000" stroke-width="1.7"/>
<path d="M318.98,115.83 L318.98,118.83" stroke="#000" stroke-width="1.7"/>
<path d="M339.10,115.83 L339.10,118.83" stroke="#000" stroke-width="1.7"/>
<path d="M359.23,115.83 L359.23,118.83" stroke="#000" stroke-width="1.7"/>
<path d="M379.35,115.83 L379.35,118.83" stroke="#000" stroke-width="1.7"/>
<path d="M399.48,115.83 L399.48,118.83" stroke="#000" stroke-width="1.7"/>
<path d="M419.60,115.83 L419.60,118.83" stroke="#000" stroke-width="1.7"/>
<path d="M439.73,115.83 L439.73,118.83" stroke="#000" stroke-width="1.7"/>
<path d="M459.85,115.83 L459.85,118.83" stroke="#000" stroke-width="1.7"/>
<path d="M479.98,115.83 L479.98,118.83" stroke="#000" stroke-width="1.7"/>
<text x="308.80" y="30.63" text-anchor="end" class="tk">45</text>
<text x="308.80" y="48.49" text-anchor="end" class="tk">35</text>
<text x="308.80" y="66.35" text-anchor="end" class="tk">25</text>
<text x="308.80" y="84.21" text-anchor="end" class="tk">15</text>
<text x="308.80" y="102.07" text-anchor="end" class="tk">5</text>
<text x="308.80" y="119.93" text-anchor="end" class="tk">-5</text>
<text x="339.10" y="132.9" text-anchor="middle" class="tk">0</text>
<text x="379.35" y="132.9" text-anchor="middle" class="tk">200</text>
<text x="419.60" y="132.9" text-anchor="middle" class="tk">400</text>
<text x="459.85" y="132.9" text-anchor="middle" class="tk">600</text>
<text x="392.80" y="11.9" text-anchor="middle" class="ti">PTK7 mAb-43</text>
<text x="400.23" y="146.9" text-anchor="middle" class="ti">Time (sec)</text>
<text transform="translate(289.80,72.9) rotate(-90)" text-anchor="middle" class="yl">Response (RU)</text>
<path d="M458.00,7.30 L463.60,7.30" stroke="#e3101b" stroke-width="1.6"/>
<text x="465.80" y="10.05" class="lg">31.25 nM</text>
<path d="M458.00,15.90 L463.60,15.90" stroke="#f4823c" stroke-width="1.6"/>
<text x="465.80" y="18.65" class="lg">15.63 nM</text>
<path d="M458.00,24.50 L463.60,24.50" stroke="#fdc20f" stroke-width="1.6"/>
<text x="465.80" y="27.25" class="lg">7.81 nM</text>
<path d="M458.00,33.10 L463.60,33.10" stroke="#27ae4a" stroke-width="1.6"/>
<text x="465.80" y="35.85" class="lg">3.91 nM</text>
<path d="M458.00,41.70 L463.60,41.70" stroke="#1b7fd6" stroke-width="1.6"/>
<text x="465.80" y="44.45" class="lg">1.95 nM</text>
<path d="M339.10,106.90 L339.70,106.09 L340.31,105.46 L340.91,104.96 L341.52,104.56 L342.12,104.23 L342.72,103.96 L343.33,103.72 L343.93,103.52 L344.53,103.33 L345.14,103.17 L345.74,103.01 L346.35,102.86 L346.95,102.72 L347.55,102.58 L348.16,102.44 L348.76,102.31 L349.36,102.18 L349.97,102.05 L350.57,101.91 L351.18,101.78 L351.78,101.65 L352.38,101.52 L352.99,101.39 L353.59,101.26 L354.19,101.12 L354.80,100.99 L355.40,100.86 L356.00,100.72 L356.61,100.59 L357.21,100.45 L357.82,100.32 L358.42,100.18 L359.02,100.04 L359.63,99.90 L360.23,99.76 L360.84,99.62 L361.44,99.48 L362.04,99.34 L362.65,99.20 L363.25,99.05 L363.85,98.91 L364.46,98.76 L365.06,98.62 L365.67,98.47 L366.27,98.33 L366.87,98.18 L367.48,98.03 L368.08,97.88 L368.68,97.73 L369.29,97.58 L369.89,97.43 L370.50,97.27 L371.10,97.12 L371.70,96.96 L372.31,96.81 L372.91,96.65 L373.51,96.50 L374.12,96.34 L374.72,96.18 L375.33,96.02 L375.93,95.86 L376.53,95.70 L377.14,95.54 L377.74,95.37 L378.34,95.21 L378.95,95.04 L379.55,94.88 L380.16,94.71 L380.76,94.54 L381.36,94.38 L381.97,94.21 L382.57,94.04 L383.17,93.87 L383.78,93.69 L384.38,93.52 L384.99,93.35 L385.59,93.17 L386.19,93.00 L386.80,92.82 L387.40,92.64 L388.00,92.46 L388.61,92.28 L389.21,92.10 L389.82,91.92 L390.42,91.74 L391.02,91.55 L391.63,91.37 L392.23,91.18 L392.83,91.00 L393.44,90.81 L394.04,90.62 L394.65,90.43 L395.25,90.24 L395.85,90.05 L396.46,89.86 L397.06,89.66 L397.66,89.47 L398.27,89.27 L398.47,89.21 L398.47,87.78 L398.47,91.99 L398.77,90.22 L398.47,90.20 L399.07,90.24 L399.68,90.28 L400.28,90.32 L400.88,90.37 L401.49,90.41 L402.09,90.45 L402.70,90.49 L403.30,90.53 L403.90,90.57 L404.51,90.61 L405.11,90.66 L405.71,90.70 L406.32,90.74 L406.92,90.78 L407.53,90.82 L408.13,90.86 L408.73,90.90 L409.34,90.95 L409.94,90.99 L410.54,91.03 L411.15,91.07 L411.75,91.11 L412.36,91.15 L412.96,91.19 L413.56,91.24 L414.17,91.28 L414.77,91.32 L415.37,91.36 L415.98,91.40 L416.58,91.44 L417.19,91.48 L417.79,91.53 L418.39,91.57 L419.00,91.61 L419.60,91.65 L420.20,91.69 L420.81,91.73 L421.41,91.77 L422.02,91.82 L422.62,91.86 L423.22,91.90 L423.83,91.94 L424.43,91.98 L425.03,92.02 L425.64,92.06 L426.24,92.11 L426.85,92.15 L427.45,92.19 L428.05,92.23 L428.66,92.27 L429.26,92.31 L429.86,92.35 L430.47,92.40 L431.07,92.44 L431.68,92.48 L432.28,92.52 L432.88,92.56 L433.49,92.60 L434.09,92.64 L434.69,92.69 L435.30,92.73 L435.90,92.77 L436.50,92.81 L437.11,92.85 L437.71,92.89 L438.32,92.93 L438.92,92.98 L439.52,93.02 L440.13,93.06 L440.73,93.10 L441.34,93.14 L441.94,93.18 L442.54,93.22 L443.15,93.27 L443.75,93.31 L444.35,93.35 L444.96,93.39 L445.56,93.43 L446.17,93.47 L446.77,93.52 L447.37,93.56 L447.98,93.60 L448.58,93.64 L449.18,93.68 L449.79,93.72 L450.39,93.76 L451.00,93.81 L451.60,93.85 L452.20,93.89 L452.81,93.93 L453.41,93.97 L454.01,94.01 L454.62,94.05 L455.22,94.10 L455.83,94.14 L456.43,94.18 L457.03,94.22 L457.64,94.26 L458.24,94.30" stroke="#1b7fd6" stroke-width="1.9" fill="none"/>
<path d="M339.10,106.90 L339.70,104.80 L340.31,103.18 L340.91,101.92 L341.52,100.92 L342.12,100.12 L342.72,99.46 L343.33,98.91 L343.93,98.43 L344.53,98.02 L345.14,97.65 L345.74,97.31 L346.35,97.00 L346.95,96.70 L347.55,96.42 L348.16,96.14 L348.76,95.88 L349.36,95.61 L349.97,95.36 L350.57,95.10 L351.18,94.85 L351.78,94.60 L352.38,94.35 L352.99,94.10 L353.59,93.86 L354.19,93.61 L354.80,93.36 L355.40,93.12 L356.00,92.87 L356.61,92.62 L357.21,92.38 L357.82,92.13 L358.42,91.89 L359.02,91.64 L359.63,91.40 L360.23,91.15 L360.84,90.91 L361.44,90.66 L362.04,90.41 L362.65,90.17 L363.25,89.92 L363.85,89.68 L364.46,89.43 L365.06,89.19 L365.67,88.94 L366.27,88.70 L366.87,88.45 L367.48,88.21 L368.08,87.96 L368.68,87.72 L369.29,87.48 L369.89,87.23 L370.50,86.99 L371.10,86.74 L371.70,86.50 L372.31,86.25 L372.91,86.01 L373.51,85.76 L374.12,85.52 L374.72,85.27 L375.33,85.03 L375.93,84.78 L376.53,84.54 L377.14,84.30 L377.74,84.05 L378.34,83.81 L378.95,83.56 L379.55,83.32 L380.16,83.07 L380.76,82.83 L381.36,82.59 L381.97,82.34 L382.57,82.10 L383.17,81.85 L383.78,81.61 L384.38,81.37 L384.99,81.12 L385.59,80.88 L386.19,80.63 L386.80,80.39 L387.40,80.15 L388.00,79.90 L388.61,79.66 L389.21,79.42 L389.82,79.17 L390.42,78.93 L391.02,78.69 L391.63,78.44 L392.23,78.20 L392.83,77.95 L393.44,77.71 L394.04,77.47 L394.65,77.22 L395.25,76.98 L395.85,76.74 L396.46,76.49 L397.06,76.25 L397.66,76.01 L398.27,75.76 L398.47,75.68 L398.47,74.25 L398.47,77.96 L398.77,76.02 L398.47,76.00 L399.07,76.04 L399.68,76.09 L400.28,76.13 L400.88,76.17 L401.49,76.21 L402.09,76.26 L402.70,76.30 L403.30,76.34 L403.90,76.38 L404.51,76.42 L405.11,76.46 L405.71,76.50 L406.32,76.54 L406.92,76.58 L407.53,76.62 L408.13,76.66 L408.73,76.70 L409.34,76.74 L409.94,76.78 L410.54,76.82 L411.15,76.86 L411.75,76.90 L412.36,76.93 L412.96,76.97 L413.56,77.01 L414.17,77.05 L414.77,77.08 L415.37,77.12 L415.98,77.16 L416.58,77.19 L417.19,77.23 L417.79,77.27 L418.39,77.30 L419.00,77.34 L419.60,77.37 L420.20,77.41 L420.81,77.44 L421.41,77.48 L422.02,77.51 L422.62,77.55 L423.22,77.58 L423.83,77.62 L424.43,77.65 L425.03,77.68 L425.64,77.72 L426.24,77.75 L426.85,77.78 L427.45,77.82 L428.05,77.85 L428.66,77.88 L429.26,77.91 L429.86,77.95 L430.47,77.98 L431.07,78.01 L431.68,78.04 L432.28,78.07 L432.88,78.11 L433.49,78.14 L434.09,78.17 L434.69,78.20 L435.30,78.23 L435.90,78.26 L436.50,78.29 L437.11,78.32 L437.71,78.35 L438.32,78.38 L438.92,78.41 L439.52,78.44 L440.13,78.47 L440.73,78.50 L441.34,78.53 L441.94,78.56 L442.54,78.59 L443.15,78.62 L443.75,78.65 L444.35,78.68 L444.96,78.70 L445.56,78.73 L446.17,78.76 L446.77,78.79 L447.37,78.82 L447.98,78.85 L448.58,78.87 L449.18,78.90 L449.79,78.93 L450.39,78.96 L451.00,78.98 L451.60,79.01 L452.20,79.04 L452.81,79.06 L453.41,79.09 L454.01,79.12 L454.62,79.14 L455.22,79.17 L455.83,79.20 L456.43,79.22 L457.03,79.25 L457.64,79.27 L458.24,79.30" stroke="#27ae4a" stroke-width="1.9" fill="none"/>
<path d="M339.10,106.90 L339.70,105.79 L340.31,104.70 L340.91,103.64 L341.52,102.60 L342.12,101.58 L342.72,100.58 L343.33,99.61 L343.93,98.66 L344.53,97.73 L345.14,96.82 L345.74,95.94 L346.35,95.07 L346.95,94.22 L347.55,93.39 L348.16,92.58 L348.76,91.78 L349.36,91.01 L349.97,90.25 L350.57,89.50 L351.18,88.78 L351.78,88.07 L352.38,87.38 L352.99,86.70 L353.59,86.03 L354.19,85.39 L354.80,84.75 L355.40,84.13 L356.00,83.53 L356.61,82.93 L357.21,82.35 L357.82,81.79 L358.42,81.23 L359.02,80.69 L359.63,80.16 L360.23,79.64 L360.84,79.14 L361.44,78.64 L362.04,78.16 L362.65,77.69 L363.25,77.22 L363.85,76.77 L364.46,76.33 L365.06,75.90 L365.67,75.47 L366.27,75.06 L366.87,74.66 L367.48,74.26 L368.08,73.87 L368.68,73.50 L369.29,73.13 L369.89,72.77 L370.50,72.41 L371.10,72.07 L371.70,71.73 L372.31,71.40 L372.91,71.08 L373.51,70.76 L374.12,70.45 L374.72,70.15 L375.33,69.86 L375.93,69.57 L376.53,69.29 L377.14,69.01 L377.74,68.74 L378.34,68.48 L378.95,68.22 L379.55,67.97 L380.16,67.72 L380.76,67.48 L381.36,67.24 L381.97,67.01 L382.57,66.79 L383.17,66.57 L383.78,66.35 L384.38,66.14 L384.99,65.94 L385.59,65.74 L386.19,65.54 L386.80,65.35 L387.40,65.16 L388.00,64.97 L388.61,64.79 L389.21,64.62 L389.82,64.45 L390.42,64.28 L391.02,64.11 L391.63,63.95 L392.23,63.80 L392.83,63.64 L393.44,63.49 L394.04,63.35 L394.65,63.20 L395.25,63.06 L395.85,62.92 L396.46,62.79 L397.06,62.66 L397.66,62.53 L398.27,62.41 L398.47,62.36 L398.47,61.29 L398.47,65.17 L398.77,61.65 L398.47,61.60 L399.07,61.69 L399.68,61.78 L400.28,61.86 L400.88,61.94 L401.49,62.02 L402.09,62.10 L402.70,62.17 L403.30,62.25 L403.90,62.31 L404.51,62.38 L405.11,62.45 L405.71,62.51 L406.32,62.57 L406.92,62.63 L407.53,62.68 L408.13,62.74 L408.73,62.79 L409.34,62.84 L409.94,62.89 L410.54,62.94 L411.15,62.99 L411.75,63.03 L412.36,63.08 L412.96,63.12 L413.56,63.16 L414.17,63.20 L414.77,63.24 L415.37,63.27 L415.98,63.31 L416.58,63.35 L417.19,63.38 L417.79,63.41 L418.39,63.44 L419.00,63.47 L419.60,63.50 L420.20,63.53 L420.81,63.56 L421.41,63.59 L422.02,63.61 L422.62,63.64 L423.22,63.66 L423.83,63.68 L424.43,63.71 L425.03,63.73 L425.64,63.75 L426.24,63.77 L426.85,63.79 L427.45,63.81 L428.05,63.83 L428.66,63.85 L429.26,63.86 L429.86,63.88 L430.47,63.90 L431.07,63.91 L431.68,63.93 L432.28,63.94 L432.88,63.96 L433.49,63.97 L434.09,63.99 L434.69,64.00 L435.30,64.01 L435.90,64.03 L436.50,64.04 L437.11,64.05 L437.71,64.06 L438.32,64.07 L438.92,64.08 L439.52,64.09 L440.13,64.10 L440.73,64.11 L441.34,64.12 L441.94,64.13 L442.54,64.14 L443.15,64.15 L443.75,64.16 L444.35,64.16 L444.96,64.17 L445.56,64.18 L446.17,64.19 L446.77,64.20 L447.37,64.20 L447.98,64.21 L448.58,64.22 L449.18,64.22 L449.79,64.23 L450.39,64.23 L451.00,64.24 L451.60,64.25 L452.20,64.25 L452.81,64.26 L453.41,64.26 L454.01,64.27 L454.62,64.27 L455.22,64.28 L455.83,64.28 L456.43,64.29 L457.03,64.29 L457.64,64.30 L458.24,64.30" stroke="#fdc20f" stroke-width="1.9" fill="none"/>
<path d="M339.10,106.90 L339.70,106.65 L340.31,106.40 L340.91,106.15 L341.52,105.90 L342.12,105.65 L342.72,105.41 L343.33,105.17 L343.93,104.92 L344.53,104.68 L345.14,104.45 L345.74,104.21 L346.35,103.97 L346.95,103.74 L347.55,103.50 L348.16,103.27 L348.76,103.04 L349.36,102.81 L349.97,102.59 L350.57,102.36 L351.18,102.13 L351.78,101.91 L352.38,101.69 L352.99,101.47 L353.59,101.25 L354.19,101.03 L354.80,100.81 L355.40,100.60 L356.00,100.38 L356.61,100.17 L357.21,99.96 L357.82,99.75 L358.42,99.54 L359.02,99.33 L359.63,99.12 L360.23,98.92 L360.84,98.71 L361.44,98.51 L362.04,98.31 L362.65,98.11 L363.25,97.91 L363.85,97.71 L364.46,97.51 L365.06,97.31 L365.67,97.12 L366.27,96.93 L366.87,96.73 L367.48,96.54 L368.08,96.35 L368.68,96.16 L369.29,95.98 L369.89,95.79 L370.50,95.60 L371.10,95.42 L371.70,95.24 L372.31,95.05 L372.91,94.87 L373.51,94.69 L374.12,94.51 L374.72,94.33 L375.33,94.16 L375.93,93.98 L376.53,93.81 L377.14,93.63 L377.74,93.46 L378.34,93.29 L378.95,93.12 L379.55,92.95 L380.16,92.78 L380.76,92.61 L381.36,92.44 L381.97,92.28 L382.57,92.11 L383.17,91.95 L383.78,91.79 L384.38,91.63 L384.99,91.47 L385.59,91.31 L386.19,91.15 L386.80,90.99 L387.40,90.83 L388.00,90.68 L388.61,90.52 L389.21,90.37 L389.82,90.21 L390.42,90.06 L391.02,89.91 L391.63,89.76 L392.23,89.61 L392.83,89.46 L393.44,89.31 L394.04,89.17 L394.65,89.02 L395.25,88.87 L395.85,88.73 L396.46,88.59 L397.06,88.44 L397.66,88.30 L398.27,88.16 L398.47,88.12 L398.47,88.20 L399.07,88.22 L399.68,88.24 L400.28,88.26 L400.88,88.28 L401.49,88.30 L402.09,88.32 L402.70,88.34 L403.30,88.35 L403.90,88.37 L404.51,88.39 L405.11,88.41 L405.71,88.43 L406.32,88.45 L406.92,88.47 L407.53,88.48 L408.13,88.50 L408.73,88.52 L409.34,88.54 L409.94,88.55 L410.54,88.57 L411.15,88.59 L411.75,88.61 L412.36,88.62 L412.96,88.64 L413.56,88.66 L414.17,88.68 L414.77,88.69 L415.37,88.71 L415.98,88.73 L416.58,88.74 L417.19,88.76 L417.79,88.78 L418.39,88.79 L419.00,88.81 L419.60,88.82 L420.20,88.84 L420.81,88.86 L421.41,88.87 L422.02,88.89 L422.62,88.90 L423.22,88.92 L423.83,88.93 L424.43,88.95 L425.03,88.97 L425.64,88.98 L426.24,89.00 L426.85,89.01 L427.45,89.03 L428.05,89.04 L428.66,89.06 L429.26,89.07 L429.86,89.09 L430.47,89.10 L431.07,89.11 L431.68,89.13 L432.28,89.14 L432.88,89.16 L433.49,89.17 L434.09,89.19 L434.69,89.20 L435.30,89.21 L435.90,89.23 L436.50,89.24 L437.11,89.26 L437.71,89.27 L438.32,89.28 L438.92,89.30 L439.52,89.31 L440.13,89.32 L440.73,89.34 L441.34,89.35 L441.94,89.36 L442.54,89.38 L443.15,89.39 L443.75,89.40 L444.35,89.42 L444.96,89.43 L445.56,89.44 L446.17,89.46 L446.77,89.47 L447.37,89.48 L447.98,89.49 L448.58,89.51 L449.18,89.52 L449.79,89.53 L450.39,89.54 L451.00,89.56 L451.60,89.57 L452.20,89.58 L452.81,89.59 L453.41,89.60 L454.01,89.62 L454.62,89.63 L455.22,89.64 L455.83,89.65 L456.43,89.66 L457.03,89.68 L457.64,89.69 L458.24,89.70 L458.84,89.71" stroke="#000" stroke-width="1.4" fill="none"/>
<path d="M339.10,106.90 L339.70,106.43 L340.31,105.96 L340.91,105.50 L341.52,105.04 L342.12,104.59 L342.72,104.13 L343.33,103.69 L343.93,103.24 L344.53,102.80 L345.14,102.37 L345.74,101.93 L346.35,101.51 L346.95,101.08 L347.55,100.66 L348.16,100.24 L348.76,99.82 L349.36,99.41 L349.97,99.01 L350.57,98.60 L351.18,98.20 L351.78,97.80 L352.38,97.41 L352.99,97.02 L353.59,96.63 L354.19,96.24 L354.80,95.86 L355.40,95.48 L356.00,95.11 L356.61,94.74 L357.21,94.37 L357.82,94.00 L358.42,93.64 L359.02,93.28 L359.63,92.92 L360.23,92.57 L360.84,92.22 L361.44,91.87 L362.04,91.53 L362.65,91.18 L363.25,90.84 L363.85,90.51 L364.46,90.18 L365.06,89.84 L365.67,89.52 L366.27,89.19 L366.87,88.87 L367.48,88.55 L368.08,88.23 L368.68,87.92 L369.29,87.61 L369.89,87.30 L370.50,86.99 L371.10,86.69 L371.70,86.38 L372.31,86.09 L372.91,85.79 L373.51,85.49 L374.12,85.20 L374.72,84.91 L375.33,84.63 L375.93,84.34 L376.53,84.06 L377.14,83.78 L377.74,83.50 L378.34,83.23 L378.95,82.96 L379.55,82.69 L380.16,82.42 L380.76,82.15 L381.36,81.89 L381.97,81.63 L382.57,81.37 L383.17,81.11 L383.78,80.86 L384.38,80.60 L384.99,80.35 L385.59,80.10 L386.19,79.86 L386.80,79.61 L387.40,79.37 L388.00,79.13 L388.61,78.89 L389.21,78.66 L389.82,78.42 L390.42,78.19 L391.02,77.96 L391.63,77.73 L392.23,77.50 L392.83,77.28 L393.44,77.06 L394.04,76.84 L394.65,76.62 L395.25,76.40 L395.85,76.18 L396.46,75.97 L397.06,75.76 L397.66,75.55 L398.27,75.34 L398.47,75.27 L398.47,75.20 L399.07,75.27 L399.68,75.34 L400.28,75.41 L400.88,75.48 L401.49,75.54 L402.09,75.61 L402.70,75.68 L403.30,75.74 L403.90,75.80 L404.51,75.87 L405.11,75.93 L405.71,75.99 L406.32,76.05 L406.92,76.11 L407.53,76.17 L408.13,76.23 L408.73,76.29 L409.34,76.34 L409.94,76.40 L410.54,76.45 L411.15,76.51 L411.75,76.56 L412.36,76.62 L412.96,76.67 L413.56,76.72 L414.17,76.77 L414.77,76.82 L415.37,76.87 L415.98,76.92 L416.58,76.97 L417.19,77.02 L417.79,77.07 L418.39,77.12 L419.00,77.16 L419.60,77.21 L420.20,77.25 L420.81,77.30 L421.41,77.34 L422.02,77.39 L422.62,77.43 L423.22,77.47 L423.83,77.52 L424.43,77.56 L425.03,77.60 L425.64,77.64 L426.24,77.68 L426.85,77.72 L427.45,77.76 L428.05,77.80 L428.66,77.84 L429.26,77.88 L429.86,77.91 L430.47,77.95 L431.07,77.99 L431.68,78.02 L432.28,78.06 L432.88,78.10 L433.49,78.13 L434.09,78.17 L434.69,78.20 L435.30,78.23 L435.90,78.27 L436.50,78.30 L437.11,78.33 L437.71,78.37 L438.32,78.40 L438.92,78.43 L439.52,78.46 L440.13,78.49 L440.73,78.53 L441.34,78.56 L441.94,78.59 L442.54,78.62 L443.15,78.65 L443.75,78.68 L444.35,78.70 L444.96,78.73 L445.56,78.76 L446.17,78.79 L446.77,78.82 L447.37,78.85 L447.98,78.87 L448.58,78.90 L449.18,78.93 L449.79,78.95 L450.39,78.98 L451.00,79.01 L451.60,79.03 L452.20,79.06 L452.81,79.08 L453.41,79.11 L454.01,79.13 L454.62,79.16 L455.22,79.18 L455.83,79.21 L456.43,79.23 L457.03,79.25 L457.64,79.28 L458.24,79.30 L458.84,79.32" stroke="#000" stroke-width="1.4" fill="none"/>
<path d="M339.10,106.90 L339.70,105.85 L340.31,104.81 L340.91,103.80 L341.52,102.81 L342.12,101.83 L342.72,100.88 L343.33,99.94 L343.93,99.02 L344.53,98.11 L345.14,97.23 L345.74,96.36 L346.35,95.51 L346.95,94.67 L347.55,93.85 L348.16,93.05 L348.76,92.26 L349.36,91.48 L349.97,90.72 L350.57,89.98 L351.18,89.25 L351.78,88.53 L352.38,87.82 L352.99,87.13 L353.59,86.46 L354.19,85.79 L354.80,85.14 L355.40,84.50 L356.00,83.88 L356.61,83.26 L357.21,82.66 L357.82,82.07 L358.42,81.49 L359.02,80.92 L359.63,80.36 L360.23,79.81 L360.84,79.27 L361.44,78.74 L362.04,78.23 L362.65,77.72 L363.25,77.22 L363.85,76.73 L364.46,76.25 L365.06,75.78 L365.67,75.32 L366.27,74.87 L366.87,74.43 L367.48,73.99 L368.08,73.56 L368.68,73.14 L369.29,72.73 L369.89,72.33 L370.50,71.93 L371.10,71.55 L371.70,71.17 L372.31,70.79 L372.91,70.43 L373.51,70.07 L374.12,69.71 L374.72,69.37 L375.33,69.03 L375.93,68.70 L376.53,68.37 L377.14,68.05 L377.74,67.74 L378.34,67.43 L378.95,67.13 L379.55,66.83 L380.16,66.54 L380.76,66.25 L381.36,65.97 L381.97,65.70 L382.57,65.43 L383.17,65.17 L383.78,64.91 L384.38,64.65 L384.99,64.40 L385.59,64.16 L386.19,63.92 L386.80,63.68 L387.40,63.45 L388.00,63.22 L388.61,63.00 L389.21,62.78 L389.82,62.57 L390.42,62.36 L391.02,62.15 L391.63,61.95 L392.23,61.75 L392.83,61.56 L393.44,61.37 L394.04,61.18 L394.65,61.00 L395.25,60.82 L395.85,60.64 L396.46,60.47 L397.06,60.30 L397.66,60.13 L398.27,59.97 L398.47,59.91 L398.47,60.00 L399.07,60.08 L399.68,60.16 L400.28,60.24 L400.88,60.32 L401.49,60.40 L402.09,60.47 L402.70,60.55 L403.30,60.62 L403.90,60.69 L404.51,60.76 L405.11,60.83 L405.71,60.90 L406.32,60.97 L406.92,61.03 L407.53,61.10 L408.13,61.16 L408.73,61.23 L409.34,61.29 L409.94,61.35 L410.54,61.41 L411.15,61.47 L411.75,61.53 L412.36,61.59 L412.96,61.64 L413.56,61.70 L414.17,61.75 L414.77,61.81 L415.37,61.86 L415.98,61.91 L416.58,61.96 L417.19,62.01 L417.79,62.06 L418.39,62.11 L419.00,62.16 L419.60,62.21 L420.20,62.26 L420.81,62.30 L421.41,62.35 L422.02,62.39 L422.62,62.44 L423.22,62.48 L423.83,62.53 L424.43,62.57 L425.03,62.61 L425.64,62.65 L426.24,62.69 L426.85,62.73 L427.45,62.77 L428.05,62.81 L428.66,62.85 L429.26,62.88 L429.86,62.92 L430.47,62.96 L431.07,62.99 L431.68,63.03 L432.28,63.06 L432.88,63.10 L433.49,63.13 L434.09,63.17 L434.69,63.20 L435.30,63.23 L435.90,63.26 L436.50,63.30 L437.11,63.33 L437.71,63.36 L438.32,63.39 L438.92,63.42 L439.52,63.45 L440.13,63.48 L440.73,63.51 L441.34,63.54 L441.94,63.56 L442.54,63.59 L443.15,63.62 L443.75,63.65 L444.35,63.67 L444.96,63.70 L445.56,63.72 L446.17,63.75 L446.77,63.77 L447.37,63.80 L447.98,63.82 L448.58,63.85 L449.18,63.87 L449.79,63.90 L450.39,63.92 L451.00,63.94 L451.60,63.97 L452.20,63.99 L452.81,64.01 L453.41,64.03 L454.01,64.05 L454.62,64.08 L455.22,64.10 L455.83,64.12 L456.43,64.14 L457.03,64.16 L457.64,64.18 L458.24,64.20 L458.84,64.22" stroke="#000" stroke-width="1.4" fill="none"/>
<path d="M339.10,106.90 L339.70,104.62 L340.31,102.42 L340.91,100.31 L341.52,98.28 L342.12,96.32 L342.72,94.44 L343.33,92.63 L343.93,90.89 L344.53,89.21 L345.14,87.59 L345.74,86.04 L346.35,84.55 L346.95,83.11 L347.55,81.72 L348.16,80.39 L348.76,79.11 L349.36,77.87 L349.97,76.69 L350.57,75.54 L351.18,74.44 L351.78,73.39 L352.38,72.37 L352.99,71.39 L353.59,70.44 L354.19,69.54 L354.80,68.66 L355.40,67.82 L356.00,67.01 L356.61,66.24 L357.21,65.49 L357.82,64.77 L358.42,64.07 L359.02,63.41 L359.63,62.76 L360.23,62.14 L360.84,61.55 L361.44,60.98 L362.04,60.43 L362.65,59.90 L363.25,59.39 L363.85,58.90 L364.46,58.42 L365.06,57.97 L365.67,57.53 L366.27,57.11 L366.87,56.70 L367.48,56.31 L368.08,55.94 L368.68,55.58 L369.29,55.23 L369.89,54.90 L370.50,54.57 L371.10,54.27 L371.70,53.97 L372.31,53.68 L372.91,53.40 L373.51,53.14 L374.12,52.88 L374.72,52.64 L375.33,52.40 L375.93,52.17 L376.53,51.95 L377.14,51.74 L377.74,51.54 L378.34,51.34 L378.95,51.16 L379.55,50.98 L380.16,50.80 L380.76,50.63 L381.36,50.47 L381.97,50.32 L382.57,50.17 L383.17,50.02 L383.78,49.89 L384.38,49.75 L384.99,49.63 L385.59,49.50 L386.19,49.38 L386.80,49.27 L387.40,49.16 L388.00,49.05 L388.61,48.95 L389.21,48.85 L389.82,48.76 L390.42,48.67 L391.02,48.58 L391.63,48.50 L392.23,48.42 L392.83,48.34 L393.44,48.27 L394.04,48.19 L394.65,48.12 L395.25,48.06 L395.85,47.99 L396.46,47.93 L397.06,47.87 L397.66,47.81 L398.27,47.76 L398.47,47.74 L398.47,47.80 L399.07,47.85 L399.68,47.91 L400.28,47.97 L400.88,48.02 L401.49,48.08 L402.09,48.13 L402.70,48.19 L403.30,48.25 L403.90,48.30 L404.51,48.36 L405.11,48.41 L405.71,48.47 L406.32,48.53 L406.92,48.58 L407.53,48.64 L408.13,48.69 L408.73,48.75 L409.34,48.81 L409.94,48.86 L410.54,48.92 L411.15,48.97 L411.75,49.03 L412.36,49.09 L412.96,49.14 L413.56,49.20 L414.17,49.25 L414.77,49.31 L415.37,49.37 L415.98,49.42 L416.58,49.48 L417.19,49.53 L417.79,49.59 L418.39,49.65 L419.00,49.70 L419.60,49.76 L420.20,49.82 L420.81,49.87 L421.41,49.93 L422.02,49.98 L422.62,50.04 L423.22,50.10 L423.83,50.15 L424.43,50.21 L425.03,50.26 L425.64,50.32 L426.24,50.38 L426.85,50.43 L427.45,50.49 L428.05,50.54 L428.66,50.60 L429.26,50.66 L429.86,50.71 L430.47,50.77 L431.07,50.82 L431.68,50.88 L432.28,50.94 L432.88,50.99 L433.49,51.05 L434.09,51.10 L434.69,51.16 L435.30,51.22 L435.90,51.27 L436.50,51.33 L437.11,51.38 L437.71,51.44 L438.32,51.50 L438.92,51.55 L439.52,51.61 L440.13,51.66 L440.73,51.72 L441.34,51.78 L441.94,51.83 L442.54,51.89 L443.15,51.94 L443.75,52.00 L444.35,52.06 L444.96,52.11 L445.56,52.17 L446.17,52.22 L446.77,52.28 L447.37,52.34 L447.98,52.39 L448.58,52.45 L449.18,52.50 L449.79,52.56 L450.39,52.62 L451.00,52.67 L451.60,52.73 L452.20,52.78 L452.81,52.84 L453.41,52.90 L454.01,52.95 L454.62,53.01 L455.22,53.07 L455.83,53.12 L456.43,53.18 L457.03,53.23 L457.64,53.29 L458.24,53.35 L458.84,53.40" stroke="#000" stroke-width="1.4" fill="none"/>
<path d="M339.10,106.90 L339.70,104.65 L340.31,102.48 L340.91,100.40 L341.52,98.41 L342.12,96.49 L342.72,94.65 L343.33,92.88 L343.93,91.18 L344.53,89.55 L345.14,87.99 L345.74,86.48 L346.35,85.04 L346.95,83.65 L347.55,82.32 L348.16,81.04 L348.76,79.81 L349.36,78.63 L349.97,77.50 L350.57,76.42 L351.18,75.37 L351.78,74.37 L352.38,73.40 L352.99,72.48 L353.59,71.59 L354.19,70.74 L354.80,69.92 L355.40,69.13 L356.00,68.38 L356.61,67.65 L357.21,66.96 L357.82,66.29 L358.42,65.65 L359.02,65.03 L359.63,64.44 L360.23,63.87 L360.84,63.32 L361.44,62.80 L362.04,62.29 L362.65,61.81 L363.25,61.34 L363.85,60.90 L364.46,60.47 L365.06,60.06 L365.67,59.66 L366.27,59.28 L366.87,58.92 L367.48,58.57 L368.08,58.23 L368.68,57.91 L369.29,57.60 L369.89,57.30 L370.50,57.02 L371.10,56.74 L371.70,56.48 L372.31,56.23 L372.91,55.98 L373.51,55.75 L374.12,55.53 L374.72,55.31 L375.33,55.11 L375.93,54.91 L376.53,54.72 L377.14,54.53 L377.74,54.36 L378.34,54.19 L378.95,54.03 L379.55,53.87 L380.16,53.72 L380.76,53.58 L381.36,53.44 L381.97,53.31 L382.57,53.18 L383.17,53.06 L383.78,52.94 L384.38,52.83 L384.99,52.72 L385.59,52.62 L386.19,52.52 L386.80,52.42 L387.40,52.33 L388.00,52.24 L388.61,52.16 L389.21,52.08 L389.82,52.00 L390.42,51.92 L391.02,51.85 L391.63,51.78 L392.23,51.71 L392.83,51.65 L393.44,51.59 L394.04,51.53 L394.65,51.47 L395.25,51.42 L395.85,51.37 L396.46,51.32 L397.06,51.27 L397.66,51.22 L398.27,51.18 L398.47,51.16 L398.47,49.73 L398.47,51.79 L398.77,50.91 L398.47,50.90 L399.07,50.93 L399.68,50.96 L400.28,50.99 L400.88,51.02 L401.49,51.05 L402.09,51.08 L402.70,51.11 L403.30,51.14 L403.90,51.17 L404.51,51.20 L405.11,51.23 L405.71,51.26 L406.32,51.29 L406.92,51.32 L407.53,51.35 L408.13,51.38 L408.73,51.41 L409.34,51.44 L409.94,51.47 L410.54,51.50 L411.15,51.53 L411.75,51.56 L412.36,51.59 L412.96,51.62 L413.56,51.65 L414.17,51.68 L414.77,51.71 L415.37,51.74 L415.98,51.77 L416.58,51.80 L417.19,51.83 L417.79,51.86 L418.39,51.89 L419.00,51.92 L419.60,51.96 L420.20,51.99 L420.81,52.02 L421.41,52.05 L422.02,52.08 L422.62,52.11 L423.22,52.14 L423.83,52.17 L424.43,52.20 L425.03,52.23 L425.64,52.26 L426.24,52.29 L426.85,52.32 L427.45,52.35 L428.05,52.38 L428.66,52.41 L429.26,52.44 L429.86,52.47 L430.47,52.50 L431.07,52.53 L431.68,52.56 L432.28,52.59 L432.88,52.62 L433.49,52.65 L434.09,52.68 L434.69,52.71 L435.30,52.74 L435.90,52.77 L436.50,52.80 L437.11,52.83 L437.71,52.86 L438.32,52.89 L438.92,52.92 L439.52,52.95 L440.13,52.98 L440.73,53.01 L441.34,53.05 L441.94,53.08 L442.54,53.11 L443.15,53.14 L443.75,53.17 L444.35,53.20 L444.96,53.23 L445.56,53.26 L446.17,53.29 L446.77,53.32 L447.37,53.35 L447.98,53.38 L448.58,53.41 L449.18,53.44 L449.79,53.47 L450.39,53.50 L451.00,53.53 L451.60,53.56 L452.20,53.59 L452.81,53.62 L453.41,53.65 L454.01,53.68 L454.62,53.71 L455.22,53.74 L455.83,53.77 L456.43,53.80 L457.03,53.83 L457.64,53.86 L458.24,53.89" stroke="#f4823c" stroke-width="1.9" fill="none"/>
<path d="M326.62,102.47 L327.43,102.76 L328.23,103.04 L329.04,103.33 L329.84,103.61 L330.65,103.90 L331.45,104.19 L332.26,104.47 L333.06,104.76 L333.87,105.04 L334.67,105.33 L335.48,105.61 L336.28,105.90 L337.09,106.19 L337.89,106.47 L338.70,106.76 L339.10,106.90 L339.70,102.29 L340.31,98.02 L340.91,94.06 L341.52,90.39 L342.12,86.99 L342.72,83.84 L343.33,80.92 L343.93,78.21 L344.53,75.70 L345.14,73.37 L345.74,71.21 L346.35,69.21 L346.95,67.36 L347.55,65.64 L348.16,64.05 L348.76,62.57 L349.36,61.20 L349.97,59.94 L350.57,58.76 L351.18,57.67 L351.78,56.66 L352.38,55.72 L352.99,54.86 L353.59,54.05 L354.19,53.31 L354.80,52.62 L355.40,51.98 L356.00,51.38 L356.61,50.83 L357.21,50.32 L357.82,49.85 L358.42,49.41 L359.02,49.01 L359.63,48.63 L360.23,48.28 L360.84,47.96 L361.44,47.66 L362.04,47.38 L362.65,47.12 L363.25,46.88 L363.85,46.66 L364.46,46.46 L365.06,46.27 L365.67,46.09 L366.27,45.93 L366.87,45.77 L367.48,45.63 L368.08,45.50 L368.68,45.38 L369.29,45.27 L369.89,45.17 L370.50,45.07 L371.10,44.98 L371.70,44.90 L372.31,44.82 L372.91,44.75 L373.51,44.69 L374.12,44.63 L374.72,44.57 L375.33,44.52 L375.93,44.47 L376.53,44.42 L377.14,44.38 L377.74,44.34 L378.34,44.31 L378.95,44.28 L379.55,44.24 L380.16,44.22 L380.76,44.19 L381.36,44.16 L381.97,44.14 L382.57,44.12 L383.17,44.10 L383.78,44.08 L384.38,44.07 L384.99,44.05 L385.59,44.04 L386.19,44.02 L386.80,44.01 L387.40,44.00 L388.00,43.99 L388.61,43.98 L389.21,43.97 L389.82,43.96 L390.42,43.95 L391.02,43.95 L391.63,43.94 L392.23,43.93 L392.83,43.93 L393.44,43.92 L394.04,43.92 L394.65,43.91 L395.25,43.91 L395.85,43.90 L396.46,43.90 L397.06,43.90 L397.66,43.89 L398.27,43.89 L398.47,43.89 L398.47,43.80 L399.07,43.84 L399.68,43.89 L400.28,43.93 L400.88,43.97 L401.49,44.02 L402.09,44.06 L402.70,44.10 L403.30,44.15 L403.90,44.19 L404.51,44.23 L405.11,44.28 L405.71,44.32 L406.32,44.36 L406.92,44.41 L407.53,44.45 L408.13,44.49 L408.73,44.54 L409.34,44.58 L409.94,44.62 L410.54,44.67 L411.15,44.71 L411.75,44.75 L412.36,44.80 L412.96,44.84 L413.56,44.88 L414.17,44.93 L414.77,44.97 L415.37,45.01 L415.98,45.06 L416.58,45.10 L417.19,45.15 L417.79,45.19 L418.39,45.23 L419.00,45.28 L419.60,45.32 L420.20,45.36 L420.81,45.41 L421.41,45.45 L422.02,45.49 L422.62,45.54 L423.22,45.58 L423.83,45.62 L424.43,45.67 L425.03,45.71 L425.64,45.75 L426.24,45.80 L426.85,45.84 L427.45,45.88 L428.05,45.93 L428.66,45.97 L429.26,46.01 L429.86,46.06 L430.47,46.10 L431.07,46.14 L431.68,46.19 L432.28,46.23 L432.88,46.27 L433.49,46.32 L434.09,46.36 L434.69,46.40 L435.30,46.45 L435.90,46.49 L436.50,46.53 L437.11,46.58 L437.71,46.62 L438.32,46.66 L438.92,46.71 L439.52,46.75 L440.13,46.79 L440.73,46.84 L441.34,46.88 L441.94,46.93 L442.54,46.97 L443.15,47.01 L443.75,47.06 L444.35,47.10 L444.96,47.14 L445.56,47.19 L446.17,47.23 L446.77,47.27 L447.37,47.32 L447.98,47.36 L448.58,47.40 L449.18,47.45 L449.79,47.49 L450.39,47.53 L451.00,47.58 L451.60,47.62 L452.20,47.66 L452.81,47.71 L453.41,47.75 L454.01,47.79 L454.62,47.84 L455.22,47.88 L455.83,47.92 L456.43,47.97 L457.03,48.01 L457.64,48.05 L458.24,48.10 L458.84,48.14" stroke="#000" stroke-width="1.4" fill="none"/>
<path d="M326.62,104.80 L327.43,104.93 L328.23,105.07 L329.04,105.20 L329.84,105.34 L330.65,105.47 L331.45,105.61 L332.26,105.75 L333.06,105.88 L333.87,106.02 L334.67,106.15 L335.48,106.29 L336.28,106.42 L337.09,106.56 L337.89,106.70 L338.70,106.83 L339.10,106.90 L339.70,102.94 L340.31,99.24 L340.91,95.76 L341.52,92.51 L342.12,89.46 L342.72,86.61 L343.33,83.94 L343.93,81.43 L344.53,79.09 L345.14,76.89 L345.74,74.84 L346.35,72.91 L346.95,71.10 L347.55,69.41 L348.16,67.83 L348.76,66.34 L349.36,64.95 L349.97,63.65 L350.57,62.43 L351.18,61.29 L351.78,60.22 L352.38,59.22 L352.99,58.28 L353.59,57.40 L354.19,56.58 L354.80,55.80 L355.40,55.08 L356.00,54.41 L356.61,53.77 L357.21,53.18 L357.82,52.62 L358.42,52.10 L359.02,51.61 L359.63,51.15 L360.23,50.73 L360.84,50.33 L361.44,49.95 L362.04,49.60 L362.65,49.27 L363.25,48.96 L363.85,48.67 L364.46,48.40 L365.06,48.15 L365.67,47.91 L366.27,47.68 L366.87,47.48 L367.48,47.28 L368.08,47.10 L368.68,46.93 L369.29,46.77 L369.89,46.62 L370.50,46.47 L371.10,46.34 L371.70,46.22 L372.31,46.10 L372.91,45.99 L373.51,45.89 L374.12,45.80 L374.72,45.71 L375.33,45.63 L375.93,45.55 L376.53,45.47 L377.14,45.41 L377.74,45.34 L378.34,45.28 L378.95,45.22 L379.55,45.17 L380.16,45.12 L380.76,45.08 L381.36,45.03 L381.97,44.99 L382.57,44.95 L383.17,44.92 L383.78,44.88 L384.38,44.85 L384.99,44.82 L385.59,44.80 L386.19,44.77 L386.80,44.75 L387.40,44.72 L388.00,44.70 L388.61,44.68 L389.21,44.66 L389.82,44.65 L390.42,44.63 L391.02,44.62 L391.63,44.60 L392.23,44.59 L392.83,44.58 L393.44,44.56 L394.04,44.55 L394.65,44.54 L395.25,44.53 L395.85,44.52 L396.46,44.52 L397.06,44.51 L397.66,44.50 L398.27,44.49 L398.47,44.49 L398.47,43.06 L398.47,44.79 L399.07,44.84 L399.68,44.88 L400.28,44.93 L400.88,44.98 L401.49,45.03 L402.09,45.08 L402.70,45.12 L403.30,45.17 L403.90,45.22 L404.51,45.27 L405.11,45.32 L405.71,45.36 L406.32,45.41 L406.92,45.46 L407.53,45.51 L408.13,45.56 L408.73,45.60 L409.34,45.65 L409.94,45.70 L410.54,45.75 L411.15,45.80 L411.75,45.84 L412.36,45.89 L412.96,45.94 L413.56,45.99 L414.17,46.04 L414.77,46.08 L415.37,46.13 L415.98,46.18 L416.58,46.23 L417.19,46.28 L417.79,46.32 L418.39,46.37 L419.00,46.42 L419.60,46.47 L420.20,46.52 L420.81,46.56 L421.41,46.61 L422.02,46.66 L422.62,46.71 L423.22,46.76 L423.83,46.80 L424.43,46.85 L425.03,46.90 L425.64,46.95 L426.24,47.00 L426.85,47.04 L427.45,47.09 L428.05,47.14 L428.66,47.19 L429.26,47.24 L429.86,47.28 L430.47,47.33 L431.07,47.38 L431.68,47.43 L432.28,47.48 L432.88,47.52 L433.49,47.57 L434.09,47.62 L434.69,47.67 L435.30,47.72 L435.90,47.76 L436.50,47.81 L437.11,47.86 L437.71,47.91 L438.32,47.96 L438.92,48.00 L439.52,48.05 L440.13,48.10 L440.73,48.15 L441.34,48.20 L441.94,48.24 L442.54,48.29 L443.15,48.34 L443.75,48.39 L444.35,48.44 L444.96,48.48 L445.56,48.53 L446.17,48.58 L446.77,48.63 L447.37,48.68 L447.98,48.72 L448.58,48.77 L449.18,48.82 L449.79,48.87 L450.39,48.92 L451.00,48.96 L451.60,49.01 L452.20,49.06 L452.81,49.11 L453.41,49.16 L454.01,49.20 L454.62,49.25 L455.22,49.30 L455.83,49.35 L456.43,49.40 L457.03,49.44 L457.64,49.49 L458.24,49.54" stroke="#e3101b" stroke-width="1.9" fill="none"/>
</svg>
<div class="c" style="left:86.50px;width:153.40px;top:176.90px"><i>k</i><sub>a</sub> (1/Ms)</div><div class="c" style="left:239.90px;width:153.50px;top:176.90px"><i>k</i><sub>d</sub> (1/s)</div><div class="c" style="left:393.40px;width:153.60px;top:176.90px"><i>K</i><sub>D</sub> (M)</div><div class="c" style="left:7.5px;top:199.90px;text-align:left">PTK7 mAb-32</div><div class="c" style="left:7.5px;top:225.10px;text-align:left">PTK7 mAb-43</div><div class="c d" style="left:86.50px;width:153.40px;top:199.90px">7.72<span class="x">×</span>10<sup>5</sup> ± 8.87<span class="x">×</span>10<sup>3</sup></div><div class="c d" style="left:239.90px;width:153.50px;top:199.90px">6.57<span class="x">×</span>10<sup><span class="m">−</span>4</sup> ± 8.94<span class="x">×</span>10<sup><span class="m">−</span>6</sup></div><div class="c d" style="left:393.40px;width:153.60px;top:199.90px">8.51<span class="x">×</span>10<sup><span class="m">−</span>10</sup> ± 2.08<span class="x">×</span>10<sup><span class="m">−</span>11</sup></div><div class="c d" style="left:86.50px;width:153.40px;top:225.10px">5.52<span class="x">×</span>10<sup>5</sup> ± 2.03<span class="x">×</span>10<sup>3 +++</sup></div><div class="c d" style="left:239.90px;width:153.50px;top:225.10px">2.72<span class="x">×</span>10<sup><span class="m">−</span>4</sup> ± 5.31<span class="x">×</span>10<sup><span class="m">−</span>6 +++</sup></div><div class="c d" style="left:393.40px;width:153.60px;top:225.10px">4.93<span class="x">×</span>10<sup><span class="m">−</span>10</sup> ± 1.09<span class="x">×</span>10<sup><span class="m">−</span>11 +++</sup></div>
</body></html>
